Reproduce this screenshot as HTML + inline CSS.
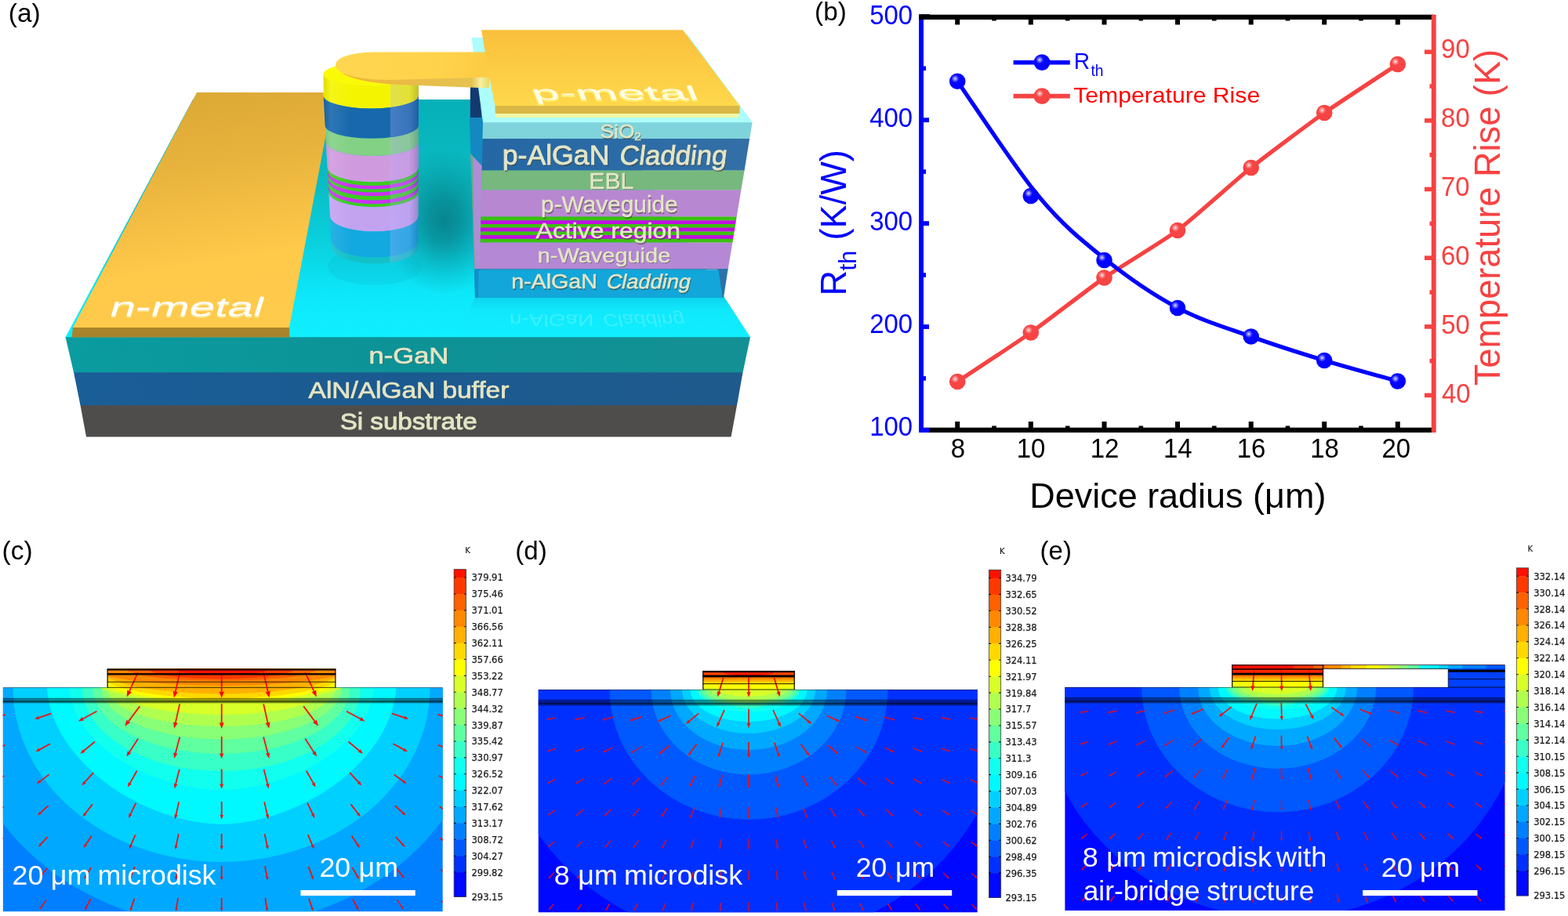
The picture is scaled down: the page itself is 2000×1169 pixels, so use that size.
<!DOCTYPE html>
<html lang="en"><head><meta charset="utf-8"><title>Figure</title>
<style>
html,body{margin:0;padding:0;background:#fff;}
body{width:2000px;height:1169px;overflow:hidden;}
svg{display:block;}
</style></head><body>
<svg width="2000" height="1169" viewBox="0 0 2000 1169">
<rect x="0" y="0" width="2000" height="1169" fill="#fff"/>
<g id="panelA">
<defs>
<linearGradient id="aCy" x1="0" y1="127" x2="0" y2="430" gradientUnits="userSpaceOnUse">
 <stop offset="0" stop-color="#07b0b8"/><stop offset="0.35" stop-color="#09bcc4"/><stop offset="0.62" stop-color="#0ad2e0"/><stop offset="0.82" stop-color="#0ce8fa"/><stop offset="1" stop-color="#10efff"/>
</linearGradient>
<linearGradient id="aNm" x1="250" y1="118" x2="300" y2="418" gradientUnits="userSpaceOnUse">
 <stop offset="0" stop-color="#dca936"/><stop offset="0.3" stop-color="#e8b33c"/><stop offset="0.55" stop-color="#f6c045"/><stop offset="0.72" stop-color="#ffc94a"/><stop offset="1" stop-color="#ffcb4c"/>
</linearGradient>
<linearGradient id="aPad" x1="0" y1="38" x2="0" y2="135" gradientUnits="userSpaceOnUse">
 <stop offset="0" stop-color="#f9bf3c"/><stop offset="1" stop-color="#ffd84c"/>
</linearGradient>
<linearGradient id="aArm" x1="428" y1="0" x2="624" y2="0" gradientUnits="userSpaceOnUse">
 <stop offset="0" stop-color="#ffd650"/><stop offset="0.7" stop-color="#ffd24b"/><stop offset="1" stop-color="#fdcb44"/>
</linearGradient>
<linearGradient id="aArmS" x1="440" y1="0" x2="624" y2="0" gradientUnits="userSpaceOnUse">
 <stop offset="0" stop-color="#f3b630"/><stop offset="0.5" stop-color="#e8bc4a"/><stop offset="0.88" stop-color="#e6c250"/><stop offset="0.94" stop-color="#f6f0a0"/><stop offset="1" stop-color="#e8d868"/>
</linearGradient>
<linearGradient id="aGaN" x1="83" y1="0" x2="957" y2="0" gradientUnits="userSpaceOnUse">
 <stop offset="0" stop-color="#0a9ca0"/><stop offset="0.5" stop-color="#0d9296"/><stop offset="1" stop-color="#149094"/>
</linearGradient>
<linearGradient id="aAlN" x1="94" y1="0" x2="947" y2="0" gradientUnits="userSpaceOnUse">
 <stop offset="0" stop-color="#1a5e98"/><stop offset="0.5" stop-color="#1b5a90"/><stop offset="1" stop-color="#1f5a8c"/>
</linearGradient>
<linearGradient id="aCylSh" x1="412" y1="0" x2="534" y2="0" gradientUnits="userSpaceOnUse">
 <stop offset="0" stop-color="#000" stop-opacity="0.10"/><stop offset="0.08" stop-color="#fff" stop-opacity="0.10"/><stop offset="0.3" stop-color="#fff" stop-opacity="0.0"/><stop offset="0.7" stop-color="#fff" stop-opacity="0"/><stop offset="0.705" stop-color="#b8b0ff" stop-opacity="0.30"/><stop offset="0.9" stop-color="#a8a0f0" stop-opacity="0.22"/><stop offset="1" stop-color="#304080" stop-opacity="0.30"/>
</linearGradient>
<radialGradient id="aShd" cx="566" cy="283" r="78" gradientUnits="userSpaceOnUse" gradientTransform="translate(566,283) scale(1,1.2) translate(-566,-283)">
 <stop offset="0" stop-color="#05444c" stop-opacity="0.52"/><stop offset="0.3" stop-color="#055058" stop-opacity="0.42"/><stop offset="0.65" stop-color="#066068" stop-opacity="0.2"/><stop offset="1" stop-color="#087078" stop-opacity="0"/>
</radialGradient>
<linearGradient id="aRefl" x1="0" y1="380" x2="0" y2="430" gradientUnits="userSpaceOnUse">
 <stop offset="0" stop-color="#0cc0e0" stop-opacity="0.55"/><stop offset="0.35" stop-color="#18e0f8" stop-opacity="0.2"/><stop offset="1" stop-color="#18e8ff" stop-opacity="0"/>
</linearGradient>
<linearGradient id="aPA" x1="612" y1="0" x2="955" y2="0" gradientUnits="userSpaceOnUse">
 <stop offset="0" stop-color="#2467a4"/><stop offset="1" stop-color="#336fa6"/>
</linearGradient>
<clipPath id="aCylClip"><path d="M412.5,100 L412.5,100 A60.75,15 0 0 1 534,100 L533.4,314 A55.2,22.5 0 0 1 423,314 Z"/></clipPath>
</defs>
<polygon points="102.5,517.0 940.0,517.0 932.5,557.5 110.0,557.5" fill="#4f4d4b"/>
<polygon points="94.0,475.0 947.5,475.0 940.0,517.3 102.5,517.3" fill="url(#aAlN)"/>
<polygon points="83.5,430.0 957.0,430.0 947.5,475.3 94.0,475.3" fill="url(#aGaN)"/>
<polygon points="83.5,430.3 957.0,430.3 760.0,127.0 246.0,127.0" fill="url(#aCy)"/>
<polygon points="480.0,180.0 650.0,180.0 650.0,385.0 480.0,385.0" fill="url(#aShd)"/>
<polygon points="251.0,118.0 426.0,118.0 369.0,418.0 93.0,418.0" fill="url(#aNm)"/>
<polygon points="93.0,418.0 369.0,418.0 369.5,430.4 91.5,430.4" fill="#a9842c"/>
<ellipse cx="478" cy="340" rx="60" ry="24" fill="#0aa0c0" opacity="0.16"/>
<path d="M412.5,94.5 A60.8,15.0 0 0 0 534.0,94.5 L533.9,122.0 A60.7,16.4 0 0 1 412.5,122.0 Z" fill="#f4f400"/>
<path d="M412.5,122.0 A60.7,16.4 0 0 0 533.9,122.0 L533.8,160.2 A59.6,16.6 0 0 1 414.6,160.2 Z" fill="#1768ac"/>
<path d="M414.6,160.2 A59.6,16.6 0 0 0 533.8,160.2 L533.8,181.0 A59.0,18.0 0 0 1 415.7,181.0 Z" fill="#82d184"/>
<path d="M415.7,181.0 A59.0,18.0 0 0 0 533.8,181.0 L533.7,213.5 A58.1,19.0 0 0 1 417.5,213.5 Z" fill="#d09adf"/>
<path d="M417.5,213.5 A58.1,19.0 0 0 0 533.7,213.5 L533.7,217.9 A58.0,19.2 0 0 1 417.7,217.9 Z" fill="#3ecc1c"/>
<path d="M417.7,217.9 A58.0,19.2 0 0 0 533.7,217.9 L533.7,222.6 A57.8,19.2 0 0 1 418.0,222.6 Z" fill="#cc30ee"/>
<path d="M418.0,222.6 A57.8,19.2 0 0 0 533.7,222.6 L533.6,227.2 A57.7,19.2 0 0 1 418.3,227.2 Z" fill="#3ecc1c"/>
<path d="M418.3,227.2 A57.7,19.2 0 0 0 533.6,227.2 L533.6,231.9 A57.6,19.2 0 0 1 418.5,231.9 Z" fill="#cc30ee"/>
<path d="M418.5,231.9 A57.6,19.2 0 0 0 533.6,231.9 L533.6,236.5 A57.4,19.2 0 0 1 418.8,236.5 Z" fill="#3ecc1c"/>
<path d="M418.8,236.5 A57.4,19.2 0 0 0 533.6,236.5 L533.6,241.2 A57.3,19.2 0 0 1 419.0,241.2 Z" fill="#cc30ee"/>
<path d="M419.0,241.2 A57.3,19.2 0 0 0 533.6,241.2 L533.6,245.8 A57.2,19.2 0 0 1 419.3,245.8 Z" fill="#3ecc1c"/>
<path d="M419.3,245.8 A57.2,19.2 0 0 0 533.6,245.8 L533.5,275.4 A56.3,20.2 0 0 1 420.9,275.4 Z" fill="#c3a2f0"/>
<path d="M420.9,275.4 A56.3,20.2 0 0 0 533.5,275.4 L533.4,307.2 A55.4,21.5 0 0 1 422.6,307.2 Z" fill="#12a8e0"/>
<path d="M422.6,307.2 A55.4,21.5 0 0 0 533.4,307.2 L533.4,314.5 A55.2,22.0 0 0 1 423.0,314.5 Z" fill="#14c0c8"/>
<path d="M412.5,94.5 A60.8,15.0 0 0 0 534.0,94.5 L533.4,314.5 A55.2,22.0 0 0 1 423.0,314.5 Z" fill="url(#aCylSh)"/>
<ellipse cx="473.25" cy="94.5" rx="60.75" ry="15" fill="#fafa08"/>
<polygon points="600.0,110.0 616.0,110.0 616.0,156.0 611.0,380.0 606.0,380.0 599.0,150.0" fill="#1488c0"/>
<polygon points="600.0,110.0 612.0,110.0 614.0,150.0 600.0,150.0" fill="#123a70"/>
<polygon points="600.0,196.0 615.0,212.0 612.5,343.0 605.0,343.0 601.5,228.0" fill="#ae8ed4"/>
<polygon points="600.0,196.0 603.0,199.0 605.5,343.0 604.6,343.0 601.5,228.0" fill="#58b078" opacity="0.8"/>
<polygon points="605.0,343.0 612.5,343.0 611.0,380.0 606.0,380.0" fill="#1090c8"/>
<polygon points="616.0,156.0 959.6,156.0 956.1,177.3 615.5,177.3" fill="#7fd3db"/>
<polygon points="615.5,177.0 956.1,177.0 949.5,217.7 614.6,217.7" fill="url(#aPA)"/>
<polygon points="614.6,217.4 949.5,217.4 945.3,242.8 614.1,242.8" fill="#77b87f"/>
<polygon points="614.1,242.5 945.3,242.5 939.7,276.8 613.3,276.8" fill="#b887d2"/>
<polygon points="613.3,276.5 939.7,276.5 938.9,281.5 613.2,281.5" fill="#3cc010"/>
<polygon points="613.2,281.2 938.9,281.2 938.2,286.2 613.1,286.2" fill="#c010e0"/>
<polygon points="613.1,285.9 938.2,285.9 937.4,290.9 613.0,290.9" fill="#3cc010"/>
<polygon points="613.0,290.6 937.4,290.6 936.6,295.7 612.9,295.7" fill="#c010e0"/>
<polygon points="612.9,295.4 936.6,295.4 935.8,300.4 612.8,300.4" fill="#3cc010"/>
<polygon points="612.8,300.1 935.8,300.1 935.1,305.1 612.7,305.1" fill="#c010e0"/>
<polygon points="612.7,304.8 935.1,304.8 934.3,309.8 612.6,309.8" fill="#3cc010"/>
<polygon points="612.6,309.5 934.3,309.5 928.7,343.5 611.8,343.5" fill="#b488d4"/>
<polygon points="915.0,343.0 928.6,343.0 923.0,380.0 920.0,380.0" fill="#2a74a8"/>
<polygon points="610.5,344.4 916.4,344.4 921.5,380.0 610.0,380.0" fill="#12a6da"/>
<polygon points="610.5,343.0 928.6,343.0 928.4,344.6 610.5,344.6" fill="#2a78b0" opacity="0.8"/>
<polygon points="606.0,380.0 924.0,380.0 955.0,428.0 580.0,428.0" fill="url(#aRefl)"/>
<polygon points="601.5,48.0 877.0,44.0 959.8,156.3 616.0,156.3" fill="#adfcfc"/>
<polygon points="632.0,144.0 942.5,144.0 942.0,150.2 632.5,150.2" fill="#eff8a6"/>
<polygon points="631.4,134.5 943.6,134.5 943.4,145.0 631.8,145.0" fill="#d9b746"/>
<polygon points="614.0,38.2 871.0,38.2 943.6,135.0 631.4,135.0 624.0,98.0" fill="url(#aPad)"/>
<path d="M436,93 Q450,103 497,107.6 L623.5,112.4 L624.5,98 L497,101 Z" fill="url(#aArmS)"/>
<path d="M618,66.6 L476,66.6 C447,67 428,74 428,83 C428,93 450,101.5 497,102 L625,98.6 L619,66 Z" fill="url(#aArm)"/>
</g>
<g id="textA">
<text transform="translate(0,177.60) scale(1.0767,1)" font-family="'Liberation Sans', sans-serif" font-size="24.50" fill="#3a3a28" xml:space="preserve" opacity="0.55"><tspan x="711.87" y="0">SiO</tspan><tspan x="752.57" y="2.50" font-size="14.50">2</tspan></text>
<text transform="translate(0,176.30) scale(1.0767,1)" font-family="'Liberation Sans', sans-serif" font-size="24.50" fill="#e3e5c6" xml:space="preserve" stroke="#e3e5c6" stroke-width="0.5"><tspan x="710.94" y="0">SiO</tspan><tspan x="751.65" y="2.50" font-size="14.50">2</tspan></text>
<text transform="translate(641.68,211.50) scale(1.0374,1.0)" font-family="'Liberation Sans', sans-serif" font-size="34.4" fill="#3a3a28" opacity="0.55">p-AlGaN</text>
<text transform="translate(640.68,210.20) scale(1.0374,1.0)" font-family="'Liberation Sans', sans-serif" font-size="34.4" fill="#e3e5c6" stroke="#e3e5c6" stroke-width="0.8">p-AlGaN</text>
<text transform="translate(790.15,211.50) skewX(-7) scale(1.0095,1.0)" font-family="'Liberation Sans', sans-serif" font-size="34.4" fill="#3a3a28" opacity="0.55">Cladding</text>
<text transform="translate(789.15,210.20) skewX(-7) scale(1.0095,1.0)" font-family="'Liberation Sans', sans-serif" font-size="34.4" fill="#e3e5c6" stroke="#e3e5c6" stroke-width="0.8">Cladding</text>
<text transform="translate(752.28,242.10) scale(1.0075,1.0)" font-family="'Liberation Sans', sans-serif" font-size="30" fill="#3a3a28" opacity="0.55">EBL</text>
<text transform="translate(751.28,240.80) scale(1.0075,1.0)" font-family="'Liberation Sans', sans-serif" font-size="30" fill="#e3e5c6" stroke="#e3e5c6" stroke-width="0.5">EBL</text>
<text transform="translate(691.06,272.60) scale(0.9945,1.0)" font-family="'Liberation Sans', sans-serif" font-size="30" fill="#3a3a28" opacity="0.55">p-Waveguide</text>
<text transform="translate(690.06,271.30) scale(0.9945,1.0)" font-family="'Liberation Sans', sans-serif" font-size="30" fill="#e3e5c6" stroke="#e3e5c6" stroke-width="0.5">p-Waveguide</text>
<text transform="translate(684.60,305.70) scale(1.1909,1.0)" font-family="'Liberation Sans', sans-serif" font-size="26.8" fill="#3a3a28" opacity="0.55">Active region</text>
<text transform="translate(683.60,304.40) scale(1.1909,1.0)" font-family="'Liberation Sans', sans-serif" font-size="26.8" fill="#e3e5c6" stroke="#e3e5c6" stroke-width="0.5">Active region</text>
<text transform="translate(686.72,336.10) scale(1.1270,1.0)" font-family="'Liberation Sans', sans-serif" font-size="25.7" fill="#3a3a28" opacity="0.55">n-Waveguide</text>
<text transform="translate(685.72,334.80) scale(1.1270,1.0)" font-family="'Liberation Sans', sans-serif" font-size="25.7" fill="#e3e5c6" stroke="#e3e5c6" stroke-width="0.5">n-Waveguide</text>
<text transform="translate(653.14,369.70) scale(1.1150,1.0)" font-family="'Liberation Sans', sans-serif" font-size="25.7" fill="#3a3a28" opacity="0.55">n-AlGaN</text>
<text transform="translate(652.14,368.40) scale(1.1150,1.0)" font-family="'Liberation Sans', sans-serif" font-size="25.7" fill="#e3e5c6" stroke="#e3e5c6" stroke-width="0.5">n-AlGaN</text>
<text transform="translate(773.19,369.70) skewX(-12) scale(1.0595,1.0)" font-family="'Liberation Sans', sans-serif" font-size="25.7" fill="#3a3a28" opacity="0.55">Cladding</text>
<text transform="translate(772.19,368.40) skewX(-12) scale(1.0595,1.0)" font-family="'Liberation Sans', sans-serif" font-size="25.7" fill="#e3e5c6" stroke="#e3e5c6" stroke-width="0.5">Cladding</text>
<g transform="translate(0,401.2) scale(1,-1)" opacity="0.22"><text transform="translate(649.78,0.00) scale(1.2754,1.0)" font-family="'Liberation Sans', sans-serif" font-size="22" fill="#d8ffff" >n-AlGaN</text><text transform="translate(767.66,0.00) skewX(-12) scale(1.2003,1.0)" font-family="'Liberation Sans', sans-serif" font-size="22" fill="#d8ffff" >Cladding</text></g>
<text transform="translate(471.55,465.30) scale(1.1921,1.0)" font-family="'Liberation Sans', sans-serif" font-size="29" fill="#3a3a28" opacity="0.55">n-GaN</text>
<text transform="translate(470.55,464.00) scale(1.1921,1.0)" font-family="'Liberation Sans', sans-serif" font-size="29" fill="#e3e5c6" stroke="#e3e5c6" stroke-width="0.7">n-GaN</text>
<text transform="translate(394.60,509.30) scale(1.1526,1.0)" font-family="'Liberation Sans', sans-serif" font-size="29" fill="#3a3a28" opacity="0.55">AlN/AlGaN buffer</text>
<text transform="translate(393.60,508.00) scale(1.1526,1.0)" font-family="'Liberation Sans', sans-serif" font-size="29" fill="#e3e5c6" stroke="#e3e5c6" stroke-width="0.7">AlN/AlGaN buffer</text>
<text transform="translate(434.71,549.30) scale(1.1428,1.0)" font-family="'Liberation Sans', sans-serif" font-size="29" fill="#3a3a28" opacity="0.55">Si substrate</text>
<text transform="translate(433.71,548.00) scale(1.1428,1.0)" font-family="'Liberation Sans', sans-serif" font-size="29" fill="#e3e5c6" stroke="#e3e5c6" stroke-width="0.9">Si substrate</text>
<text transform="translate(137.68,404.70) skewX(-16.7) scale(1.7547,1.0)" font-family="'Liberation Sans', sans-serif" font-size="33.5" fill="#fbefb0" opacity="0.9">n-metal</text>
<text transform="translate(137.68,403.40) skewX(-16.7) scale(1.7547,1.0)" font-family="'Liberation Sans', sans-serif" font-size="33.5" fill="#ffffff" >n-metal</text>
<text transform="translate(681.29,129.20) skewX(22) scale(2.5432,1.0)" font-family="'Liberation Sans', sans-serif" font-size="25" fill="#fff27a" opacity="0.95" stroke="#fff27a" stroke-width="0.6">p-metal</text>
<text transform="translate(681.29,127.00) skewX(22) scale(2.5432,1.0)" font-family="'Liberation Sans', sans-serif" font-size="25" fill="#fffff4" opacity="0.92">p-metal</text>
</g>
<g id="chart" font-family="'Liberation Sans', sans-serif">
<rect x="1218.2" y="538" width="6" height="11" fill="#000"/>
<rect x="1218.2" y="22" width="6" height="9.5" fill="#000"/>
<rect x="1265.2" y="543.5" width="5.6" height="6" fill="#000"/>
<rect x="1265.2" y="22" width="5.6" height="4.5" fill="#000"/>
<rect x="1311.8" y="538" width="6" height="11" fill="#000"/>
<rect x="1311.8" y="22" width="6" height="9.5" fill="#000"/>
<rect x="1358.9" y="543.5" width="5.6" height="6" fill="#000"/>
<rect x="1358.9" y="22" width="5.6" height="4.5" fill="#000"/>
<rect x="1405.5" y="538" width="6" height="11" fill="#000"/>
<rect x="1405.5" y="22" width="6" height="9.5" fill="#000"/>
<rect x="1452.5" y="543.5" width="5.6" height="6" fill="#000"/>
<rect x="1452.5" y="22" width="5.6" height="4.5" fill="#000"/>
<rect x="1499.0" y="538" width="6" height="11" fill="#000"/>
<rect x="1499.0" y="22" width="6" height="9.5" fill="#000"/>
<rect x="1546.0" y="543.5" width="5.6" height="6" fill="#000"/>
<rect x="1546.0" y="22" width="5.6" height="4.5" fill="#000"/>
<rect x="1592.7" y="538" width="6" height="11" fill="#000"/>
<rect x="1592.7" y="22" width="6" height="9.5" fill="#000"/>
<rect x="1639.7" y="543.5" width="5.6" height="6" fill="#000"/>
<rect x="1639.7" y="22" width="5.6" height="4.5" fill="#000"/>
<rect x="1686.2" y="538" width="6" height="11" fill="#000"/>
<rect x="1686.2" y="22" width="6" height="9.5" fill="#000"/>
<rect x="1733.2" y="543.5" width="5.6" height="6" fill="#000"/>
<rect x="1733.2" y="22" width="5.6" height="4.5" fill="#000"/>
<rect x="1779.8" y="538" width="6" height="11" fill="#000"/>
<rect x="1779.8" y="22" width="6" height="9.5" fill="#000"/>
<rect x="1175.5" y="18.7" width="653.0" height="6.3" fill="#000"/>
<rect x="1175.5" y="545.7" width="653.0" height="6.3" fill="#000"/>
<rect x="1175" y="546.0" width="10" height="5.8" fill="#0000ff"/>
<rect x="1175" y="480.1" width="6" height="5.6" fill="#0000ff"/>
<rect x="1175" y="414.1" width="10" height="5.8" fill="#0000ff"/>
<rect x="1175" y="348.2" width="6" height="5.6" fill="#0000ff"/>
<rect x="1175" y="282.2" width="10" height="5.8" fill="#0000ff"/>
<rect x="1175" y="216.3" width="6" height="5.6" fill="#0000ff"/>
<rect x="1175" y="150.3" width="10" height="5.8" fill="#0000ff"/>
<rect x="1175" y="84.5" width="6" height="5.6" fill="#0000ff"/>
<rect x="1175" y="18.4" width="10" height="5.8" fill="#0000ff"/>
<rect x="1172.1" y="18.7" width="5.9" height="533.3" fill="#0000ff"/>
<rect x="1817" y="501.7" width="11" height="5.6" fill="#f74242"/>
<rect x="1823.5" y="457.9" width="5" height="5.6" fill="#f74242"/>
<rect x="1817" y="414.1" width="11" height="5.6" fill="#f74242"/>
<rect x="1823.5" y="370.2" width="5" height="5.6" fill="#f74242"/>
<rect x="1817" y="326.4" width="11" height="5.6" fill="#f74242"/>
<rect x="1823.5" y="282.6" width="5" height="5.6" fill="#f74242"/>
<rect x="1817" y="238.7" width="11" height="5.6" fill="#f74242"/>
<rect x="1823.5" y="194.9" width="5" height="5.6" fill="#f74242"/>
<rect x="1817" y="151.1" width="11" height="5.6" fill="#f74242"/>
<rect x="1823.5" y="107.3" width="5" height="5.6" fill="#f74242"/>
<rect x="1817" y="63.5" width="11" height="5.6" fill="#f74242"/>
<rect x="1825.8" y="18.7" width="5.9" height="533.3" fill="#f74242"/>
<rect x="1172.1" y="18.3" width="14" height="6.7" fill="#000"/>
<text transform="translate(1109.19,556.06) scale(0.9635,1)" font-size="34.2" fill="#0000ff" font-family="'Liberation Sans', sans-serif">100</text>
<text transform="translate(1109.19,424.81) scale(0.9635,1)" font-size="34.2" fill="#0000ff" font-family="'Liberation Sans', sans-serif">200</text>
<text transform="translate(1109.19,293.56) scale(0.9635,1)" font-size="34.2" fill="#0000ff" font-family="'Liberation Sans', sans-serif">300</text>
<text transform="translate(1109.19,162.31) scale(0.9635,1)" font-size="34.2" fill="#0000ff" font-family="'Liberation Sans', sans-serif">400</text>
<text transform="translate(1109.19,31.06) scale(0.9635,1)" font-size="34.2" fill="#0000ff" font-family="'Liberation Sans', sans-serif">500</text>
<text transform="translate(1838.94,513.81) scale(0.9635,1)" font-size="34.2" fill="#f74242" font-family="'Liberation Sans', sans-serif">40</text>
<text transform="translate(1838.28,425.91) scale(0.9635,1)" font-size="34.2" fill="#f74242" font-family="'Liberation Sans', sans-serif">50</text>
<text transform="translate(1837.95,338.01) scale(0.9635,1)" font-size="34.2" fill="#f74242" font-family="'Liberation Sans', sans-serif">60</text>
<text transform="translate(1837.95,250.11) scale(0.9635,1)" font-size="34.2" fill="#f74242" font-family="'Liberation Sans', sans-serif">70</text>
<text transform="translate(1838.12,162.21) scale(0.9635,1)" font-size="34.2" fill="#f74242" font-family="'Liberation Sans', sans-serif">80</text>
<text transform="translate(1838.12,74.31) scale(0.9635,1)" font-size="34.2" fill="#f74242" font-family="'Liberation Sans', sans-serif">90</text>
<text transform="translate(1212.67,584.01) scale(0.9635,1)" font-size="34.2" fill="#000" font-family="'Liberation Sans', sans-serif">8</text>
<text transform="translate(1296.80,584.01) scale(0.9635,1)" font-size="34.2" fill="#000" font-family="'Liberation Sans', sans-serif">10</text>
<text transform="translate(1390.65,584.35) scale(0.9635,1)" font-size="34.2" fill="#000" font-family="'Liberation Sans', sans-serif">12</text>
<text transform="translate(1483.92,584.35) scale(0.9635,1)" font-size="34.2" fill="#000" font-family="'Liberation Sans', sans-serif">14</text>
<text transform="translate(1577.69,584.01) scale(0.9635,1)" font-size="34.2" fill="#000" font-family="'Liberation Sans', sans-serif">16</text>
<text transform="translate(1671.29,584.01) scale(0.9635,1)" font-size="34.2" fill="#000" font-family="'Liberation Sans', sans-serif">18</text>
<text transform="translate(1762.52,584.01) scale(0.9635,1)" font-size="34.2" fill="#000" font-family="'Liberation Sans', sans-serif">20</text>
<text transform="translate(1313.25,647.99) scale(1.0303,1)" font-family="'Liberation Sans', sans-serif" font-size="43.64" fill="#000" >Device radius (μm)</text>
<text transform="translate(1078.60,0) rotate(-90) scale(0.9895,1)" font-family="'Liberation Sans', sans-serif" font-size="45.60" fill="#0000ff" xml:space="preserve" ><tspan x="-381.43" y="0">R</tspan><tspan x="-349.24" y="13.40" font-size="31.50">th</tspan><tspan x="-322.39" y="0.00"> (K/W)</tspan></text>
<text transform="translate(1912.70,492.35) rotate(-90) scale(0.9913,1)" font-family="'Liberation Sans', sans-serif" font-size="45.60" fill="#f74242" >Temperature Rise (K)</text>
<defs><radialGradient id="mb" cx="0.36" cy="0.34" r="0.62" fx="0.36" fy="0.34"><stop offset="0" stop-color="#e8e8ff"/><stop offset="0.12" stop-color="#9090ff"/><stop offset="0.38" stop-color="#0808ff"/><stop offset="1" stop-color="#0000ff"/></radialGradient><radialGradient id="mr" cx="0.36" cy="0.34" r="0.62" fx="0.36" fy="0.34"><stop offset="0" stop-color="#fff0f0"/><stop offset="0.12" stop-color="#f8a8a8"/><stop offset="0.38" stop-color="#f74545"/><stop offset="1" stop-color="#f74242"/></radialGradient></defs>
<path d="M1221.2,487.0 C1230.6,480.8 1296.1,437.8 1314.8,424.5 C1333.6,411.2 1389.7,367.6 1408.5,354.5 C1427.2,341.4 1483.3,308.1 1502.0,294.0 C1520.8,279.9 1576.9,229.0 1595.7,214.0 C1614.4,199.0 1670.5,157.2 1689.2,144.0 C1708.0,130.8 1773.5,88.2 1782.8,82.0" fill="none" stroke="#f74242" stroke-width="5.2" stroke-linejoin="round"/>
<path d="M1221.2,103.7 C1238.4,128.0 1292.8,211.8 1324.0,249.5 C1355.2,287.2 1378.8,305.9 1408.5,329.8 C1438.1,353.7 1470.7,376.2 1501.9,392.8 C1533.1,409.4 1564.4,418.3 1595.7,429.5 C1626.9,440.7 1658.0,450.5 1689.2,460.0 C1720.5,469.5 1767.2,482.1 1782.8,486.5" fill="none" stroke="#0000ff" stroke-width="5.2" stroke-linejoin="round"/>
<circle cx="1221.2" cy="487.0" r="10.3" fill="url(#mr)"/>
<circle cx="1314.8" cy="424.5" r="10.3" fill="url(#mr)"/>
<circle cx="1408.5" cy="354.5" r="10.3" fill="url(#mr)"/>
<circle cx="1502.0" cy="294.0" r="10.3" fill="url(#mr)"/>
<circle cx="1595.7" cy="214.0" r="10.3" fill="url(#mr)"/>
<circle cx="1689.2" cy="144.0" r="10.3" fill="url(#mr)"/>
<circle cx="1782.8" cy="82.0" r="10.3" fill="url(#mr)"/>
<circle cx="1221.2" cy="103.7" r="10.3" fill="url(#mb)"/>
<circle cx="1314.8" cy="250.0" r="10.3" fill="url(#mb)"/>
<circle cx="1408.5" cy="332.0" r="10.3" fill="url(#mb)"/>
<circle cx="1502.0" cy="393.0" r="10.3" fill="url(#mb)"/>
<circle cx="1595.7" cy="429.5" r="10.3" fill="url(#mb)"/>
<circle cx="1689.2" cy="460.0" r="10.3" fill="url(#mb)"/>
<circle cx="1782.8" cy="486.5" r="10.3" fill="url(#mb)"/>
<line x1="1292.6" y1="79.7" x2="1364.8" y2="79.7" stroke="#0000ff" stroke-width="5.6"/>
<circle cx="1329" cy="79.6" r="10.4" fill="url(#mb)"/>
<text transform="translate(0,88.20) scale(0.9504,1)" font-family="'Liberation Sans', sans-serif" font-size="29.60" fill="#0000ff" xml:space="preserve" ><tspan x="1441.17" y="0">R</tspan><tspan x="1464.10" y="8.50" font-size="20.30">th</tspan></text>
<line x1="1292.6" y1="122.6" x2="1364.8" y2="122.6" stroke="#f74242" stroke-width="5.6"/>
<circle cx="1329" cy="122.7" r="10.4" fill="url(#mr)"/>
<text transform="translate(1369.25,131.43) scale(1.0890,1)" font-family="'Liberation Sans', sans-serif" font-size="27.70" fill="#ff0000" >Temperature Rise</text>
</g>
<g id="panelC"><defs><clipPath id="call"><path d="M3.6,877.4H136.8V853.4H428.2V877.4H564.8V1163.5H3.6Z "/></clipPath><clipPath id="csub"><rect x="3.6" y="877.4" width="561.1999999999999" height="286.1"/></clipPath><clipPath id="clow"><rect x="3.6" y="894.3" width="561.1999999999999" height="269.20000000000005"/></clipPath><clipPath id="cup"><path d="M3.6,877.4H136.8V853.4H428.2V877.4H564.8V894.3H3.6Z"/></clipPath><clipPath id="cdisk"><rect x="136.8" y="853.4" width="291.4" height="24.0"/></clipPath></defs>
<g clip-path="url(#call)">
<rect x="3.6" y="848.4" width="561.1999999999999" height="315.1" fill="#0080ff"/>
<g clip-path="url(#csub)">
<ellipse cx="282.5" cy="877.4" rx="339.0" ry="305.0" fill="#00a8ff" />
<ellipse cx="282.5" cy="877.4" rx="266.0" ry="222.6" fill="#00d0ff" />
<polygon points="505.0,877.4 504.5,885.8 502.9,895.6 500.3,905.8 496.6,916.3 491.9,926.9 486.3,937.5 479.7,947.9 472.1,958.2 463.7,968.3 454.5,978.0 444.6,987.3 433.9,996.2 422.6,1004.6 410.7,1012.4 398.3,1019.6 385.5,1026.2 372.4,1032.1 359.0,1037.3 345.5,1041.7 332.1,1045.4 318.7,1048.3 305.7,1050.3 293.2,1051.6 282.5,1052.0 271.8,1051.6 259.3,1050.3 246.3,1048.3 232.9,1045.4 219.5,1041.7 206.0,1037.3 192.6,1032.1 179.5,1026.2 166.7,1019.6 154.3,1012.4 142.4,1004.6 131.1,996.2 120.4,987.3 110.5,978.0 101.3,968.3 92.9,958.2 85.3,947.9 78.7,937.5 73.1,926.9 68.4,916.3 64.7,905.8 62.1,895.6 60.5,885.8 60.0,877.4 60.5,869.0 62.1,859.2 64.7,849.0 68.4,838.5 73.1,827.9 78.7,817.3 85.3,806.9 92.9,796.6 101.3,786.5 110.5,776.8 120.4,767.5 131.1,758.6 142.4,750.2 154.3,742.4 166.7,735.2 179.5,728.6 192.6,722.7 206.0,717.5 219.5,713.1 232.9,709.4 246.3,706.5 259.3,704.5 271.8,703.2 282.5,702.8 293.2,703.2 305.7,704.5 318.7,706.5 332.1,709.4 345.5,713.1 359.0,717.5 372.4,722.7 385.5,728.6 398.3,735.2 410.7,742.4 422.6,750.2 433.9,758.6 444.6,767.5 454.5,776.8 463.7,786.5 472.1,796.6 479.7,806.9 486.3,817.3 491.9,827.9 496.6,838.5 500.3,849.0 502.9,859.2 504.5,869.0" fill="#00f8ff" />
<polygon points="476.5,877.4 476.1,884.2 474.7,891.9 472.5,899.7 469.4,907.7 465.4,915.7 460.6,923.6 455.0,931.5 448.6,939.1 441.4,946.6 433.5,953.8 425.0,960.7 415.9,967.2 406.2,973.3 395.9,979.1 385.3,984.4 374.2,989.2 362.8,993.5 351.2,997.3 339.4,1000.5 327.5,1003.2 315.7,1005.3 304.0,1006.8 292.7,1007.7 282.5,1008.0 272.3,1007.7 261.0,1006.8 249.3,1005.3 237.5,1003.2 225.6,1000.5 213.8,997.3 202.2,993.5 190.8,989.2 179.7,984.4 169.1,979.1 158.8,973.3 149.1,967.2 140.0,960.7 131.5,953.8 123.6,946.6 116.4,939.1 110.0,931.5 104.4,923.6 99.6,915.7 95.6,907.7 92.5,899.7 90.3,891.9 88.9,884.2 88.5,877.4 88.9,870.6 90.3,862.9 92.5,855.1 95.6,847.1 99.6,839.1 104.4,831.2 110.0,823.3 116.4,815.7 123.6,808.2 131.5,801.0 140.0,794.1 149.1,787.6 158.8,781.5 169.1,775.7 179.7,770.4 190.8,765.6 202.2,761.3 213.8,757.5 225.6,754.3 237.5,751.6 249.3,749.5 261.0,748.0 272.3,747.1 282.5,746.8 292.7,747.1 304.0,748.0 315.7,749.5 327.5,751.6 339.4,754.3 351.2,757.5 362.8,761.3 374.2,765.6 385.3,770.4 395.9,775.7 406.2,781.5 415.9,787.6 425.0,794.1 433.5,801.0 441.4,808.2 448.6,815.7 455.0,823.3 460.6,831.2 465.4,839.1 469.4,847.1 472.5,855.1 474.7,862.9 476.1,870.6" fill="#10ffef" />
<ellipse cx="282.5" cy="877.4" rx="177.5" ry="106.6" fill="#38ffc7" />
<ellipse cx="282.5" cy="877.4" rx="164.0" ry="84.6" fill="#60ff9f" />
<ellipse cx="282.5" cy="877.4" rx="153.5" ry="66.0" fill="#88ff77" />
<ellipse cx="282.5" cy="877.4" rx="146.0" ry="49.6" fill="#b0ff4f" />
</g>
<g clip-path="url(#clow)">
<ellipse cx="282.5" cy="877.4" rx="136.0" ry="34.6" fill="#d8ff27" />
</g>
<g clip-path="url(#cup)">
<ellipse cx="282.5" cy="853.4" rx="182.0" ry="46.0" fill="#d8ff27" />
<ellipse cx="282.5" cy="853.4" rx="175.0" ry="42.0" fill="#ffff00" />
<ellipse cx="282.5" cy="853.4" rx="165.0" ry="38.0" fill="#ffd800" />
<ellipse cx="282.5" cy="853.4" rx="155.0" ry="32.0" fill="#ffb000" />
<ellipse cx="282.5" cy="853.4" rx="160.0" ry="21.5" fill="#ff8800" />
<ellipse cx="282.5" cy="853.4" rx="121.0" ry="15.2" fill="#ff6000" />
<ellipse cx="282.5" cy="853.4" rx="93.0" ry="12.8" fill="#ff3800" />
<ellipse cx="282.5" cy="853.4" rx="60.0" ry="8.0" fill="#ff1000" />
</g>
<g clip-path="url(#cdisk)">

</g>

<rect x="3.6" y="891.2" width="561.1999999999999" height="6.199999999999932" fill="#000" opacity="0.40"/>
<rect x="3.6" y="894.1" width="561.1999999999999" height="2.2" fill="#000" opacity="0.42"/>
<rect x="3.6" y="890.7" width="561.1999999999999" height="1.2" fill="#000" opacity="0.25"/>
<rect x="3.6" y="876.8" width="561.1999999999999" height="1.3" fill="#000" opacity="0.62"/>
</g>
<g clip-path="url(#call)">
<path d="M175.7,858.5L165.1,882.0" stroke="#f80808" stroke-width="1.8" fill="none" opacity="1.0"/><polygon points="161.7,889.5 162.2,880.7 167.9,883.3" fill="#f80808" opacity="1.0"/>
<path d="M229.5,857.4L223.8,882.5" stroke="#f80808" stroke-width="1.8" fill="none" opacity="1.0"/><polygon points="221.9,890.6 220.7,881.8 226.8,883.2" fill="#f80808" opacity="1.0"/>
<path d="M282.7,857.0L282.7,882.8" stroke="#f80808" stroke-width="1.8" fill="none" opacity="1.0"/><polygon points="282.7,891.0 279.6,882.8 285.8,882.8" fill="#f80808" opacity="1.0"/>
<path d="M335.9,857.4L341.7,882.5" stroke="#f80808" stroke-width="1.8" fill="none" opacity="1.0"/><polygon points="343.5,890.6 338.6,883.2 344.7,881.8" fill="#f80808" opacity="1.0"/>
<path d="M389.6,858.5L400.3,882.0" stroke="#f80808" stroke-width="1.8" fill="none" opacity="1.0"/><polygon points="403.8,889.5 397.5,883.3 403.2,880.7" fill="#f80808" opacity="1.0"/>
<path d="M7.0,911.9L-6.6,915.1" stroke="#f80808" stroke-width="1.8" fill="none" opacity="0.95"/><polygon points="-11.6,916.3 -7.1,913.2 -6.2,917.0" fill="#f80808" opacity="0.95"/>
<path d="M65.3,910.6L49.6,915.8" stroke="#f80808" stroke-width="1.8" fill="none" opacity="0.95"/><polygon points="44.1,917.6 48.9,913.7 50.3,917.9" fill="#f80808" opacity="0.95"/>
<path d="M123.5,907.7L105.8,917.3" stroke="#f80808" stroke-width="1.8" fill="none" opacity="0.95"/><polygon points="99.9,920.5 104.6,915.1 107.1,919.6" fill="#f80808" opacity="0.95"/>
<path d="M178.2,901.4L163.9,920.6" stroke="#f80808" stroke-width="1.8" fill="none" opacity="0.95"/><polygon points="159.2,926.8 161.5,918.8 166.2,922.3" fill="#f80808" opacity="0.95"/>
<path d="M229.2,898.4L223.9,922.1" stroke="#f80808" stroke-width="1.8" fill="none" opacity="0.95"/><polygon points="222.2,929.8 221.0,921.5 226.8,922.8" fill="#f80808" opacity="0.95"/>
<path d="M282.7,898.2L282.7,922.2" stroke="#f80808" stroke-width="1.8" fill="none" opacity="0.95"/><polygon points="282.7,930.0 279.7,922.2 285.7,922.2" fill="#f80808" opacity="0.95"/>
<path d="M336.1,898.4L341.5,922.1" stroke="#f80808" stroke-width="1.8" fill="none" opacity="0.95"/><polygon points="343.3,929.8 338.6,922.8 344.4,921.5" fill="#f80808" opacity="0.95"/>
<path d="M387.2,901.4L401.6,920.6" stroke="#f80808" stroke-width="1.8" fill="none" opacity="0.95"/><polygon points="406.2,926.8 399.2,922.3 403.9,918.8" fill="#f80808" opacity="0.95"/>
<path d="M441.9,907.7L459.6,917.3" stroke="#f80808" stroke-width="1.8" fill="none" opacity="0.95"/><polygon points="465.5,920.5 458.3,919.5 460.8,915.0" fill="#f80808" opacity="0.95"/>
<path d="M500.1,910.6L515.8,915.8" stroke="#f80808" stroke-width="1.8" fill="none" opacity="0.95"/><polygon points="521.3,917.6 515.1,917.8 516.5,913.7" fill="#f80808" opacity="0.95"/>
<path d="M558.4,911.9L572.0,915.1" stroke="#f80808" stroke-width="1.8" fill="none" opacity="0.95"/><polygon points="577.0,916.3 571.6,917.0 572.5,913.2" fill="#f80808" opacity="0.95"/>
<path d="M6.3,950.8L-6.3,955.8" stroke="#f80808" stroke-width="1.8" fill="none" opacity="0.95"/><polygon points="-10.9,957.6 -7.0,954.0 -5.6,957.5" fill="#f80808" opacity="0.95"/>
<path d="M64.0,949.2L50.3,956.6" stroke="#f80808" stroke-width="1.8" fill="none" opacity="0.95"/><polygon points="45.4,959.2 49.3,954.7 51.3,958.4" fill="#f80808" opacity="0.95"/>
<path d="M121.0,946.5L107.1,958.0" stroke="#f80808" stroke-width="1.8" fill="none" opacity="0.95"/><polygon points="102.4,961.9 105.6,956.2 108.6,959.8" fill="#f80808" opacity="0.95"/>
<path d="M176.1,942.8L165.0,959.9" stroke="#f80808" stroke-width="1.8" fill="none" opacity="0.95"/><polygon points="161.3,965.6 162.8,958.5 167.2,961.3" fill="#f80808" opacity="0.95"/>
<path d="M229.3,940.4L223.9,961.1" stroke="#f80808" stroke-width="1.8" fill="none" opacity="0.95"/><polygon points="222.1,968.0 221.3,960.5 226.5,961.8" fill="#f80808" opacity="0.95"/>
<path d="M282.7,939.9L282.7,961.4" stroke="#f80808" stroke-width="1.8" fill="none" opacity="0.95"/><polygon points="282.7,968.5 280.0,961.4 285.4,961.4" fill="#f80808" opacity="0.95"/>
<path d="M336.1,940.4L341.5,961.1" stroke="#f80808" stroke-width="1.8" fill="none" opacity="0.95"/><polygon points="343.3,968.0 338.9,961.8 344.1,960.4" fill="#f80808" opacity="0.95"/>
<path d="M389.3,942.8L400.4,959.9" stroke="#f80808" stroke-width="1.8" fill="none" opacity="0.95"/><polygon points="404.1,965.6 398.2,961.3 402.6,958.5" fill="#f80808" opacity="0.95"/>
<path d="M444.4,946.5L458.3,958.0" stroke="#f80808" stroke-width="1.8" fill="none" opacity="0.95"/><polygon points="463.0,961.9 456.8,959.8 459.8,956.2" fill="#f80808" opacity="0.95"/>
<path d="M501.4,949.2L515.1,956.6" stroke="#f80808" stroke-width="1.8" fill="none" opacity="0.95"/><polygon points="520.0,959.2 514.1,958.4 516.1,954.7" fill="#f80808" opacity="0.95"/>
<path d="M559.1,950.8L571.7,955.8" stroke="#f80808" stroke-width="1.8" fill="none" opacity="0.95"/><polygon points="576.3,957.6 571.0,957.5 572.4,954.0" fill="#f80808" opacity="0.95"/>
<path d="M5.5,990.0L-5.8,996.3" stroke="#f80808" stroke-width="1.8" fill="none" opacity="0.95"/><polygon points="-10.1,998.6 -6.7,994.7 -5.0,997.9" fill="#f80808" opacity="0.95"/>
<path d="M62.7,988.4L51.0,997.1" stroke="#f80808" stroke-width="1.8" fill="none" opacity="0.95"/><polygon points="46.7,1000.2 49.8,995.4 52.1,998.7" fill="#f80808" opacity="0.95"/>
<path d="M119.2,986.2L108.1,998.2" stroke="#f80808" stroke-width="1.8" fill="none" opacity="0.95"/><polygon points="104.2,1002.4 106.5,996.7 109.7,999.7" fill="#f80808" opacity="0.95"/>
<path d="M174.6,983.8L165.8,999.4" stroke="#f80808" stroke-width="1.8" fill="none" opacity="0.95"/><polygon points="162.8,1004.8 163.8,998.3 167.9,1000.6" fill="#f80808" opacity="0.95"/>
<path d="M228.8,982.0L224.2,1000.3" stroke="#f80808" stroke-width="1.8" fill="none" opacity="0.95"/><polygon points="222.6,1006.6 221.8,999.8 226.5,1000.9" fill="#f80808" opacity="0.95"/>
<path d="M282.7,981.5L282.7,1000.6" stroke="#f80808" stroke-width="1.8" fill="none" opacity="0.95"/><polygon points="282.7,1007.1 280.2,1000.6 285.2,1000.6" fill="#f80808" opacity="0.95"/>
<path d="M336.6,982.0L341.2,1000.3" stroke="#f80808" stroke-width="1.8" fill="none" opacity="0.95"/><polygon points="342.8,1006.6 338.9,1000.9 343.6,999.7" fill="#f80808" opacity="0.95"/>
<path d="M390.8,983.8L399.6,999.4" stroke="#f80808" stroke-width="1.8" fill="none" opacity="0.95"/><polygon points="402.6,1004.8 397.5,1000.6 401.6,998.3" fill="#f80808" opacity="0.95"/>
<path d="M446.1,986.2L457.3,998.2" stroke="#f80808" stroke-width="1.8" fill="none" opacity="0.95"/><polygon points="461.3,1002.4 455.7,999.7 458.9,996.7" fill="#f80808" opacity="0.95"/>
<path d="M502.7,988.4L514.4,997.0" stroke="#f80808" stroke-width="1.8" fill="none" opacity="0.95"/><polygon points="518.7,1000.2 513.3,998.7 515.6,995.4" fill="#f80808" opacity="0.95"/>
<path d="M559.9,990.0L571.2,996.3" stroke="#f80808" stroke-width="1.8" fill="none" opacity="0.95"/><polygon points="575.5,998.6 570.4,997.9 572.1,994.7" fill="#f80808" opacity="0.95"/>
<path d="M4.6,1029.5L-5.4,1036.6" stroke="#f80808" stroke-width="1.8" fill="none" opacity="0.95"/><polygon points="-9.2,1039.3 -6.4,1035.1 -4.4,1038.0" fill="#f80808" opacity="0.95"/>
<path d="M61.6,1028.1L51.5,1037.3" stroke="#f80808" stroke-width="1.8" fill="none" opacity="0.95"/><polygon points="47.8,1040.7 50.3,1035.9 52.8,1038.7" fill="#f80808" opacity="0.95"/>
<path d="M117.9,1026.4L108.8,1038.2" stroke="#f80808" stroke-width="1.8" fill="none" opacity="0.95"/><polygon points="105.5,1042.4 107.2,1036.9 110.4,1039.4" fill="#f80808" opacity="0.95"/>
<path d="M173.4,1024.6L166.4,1039.1" stroke="#f80808" stroke-width="1.8" fill="none" opacity="0.95"/><polygon points="164.0,1044.2 164.5,1038.1 168.4,1040.0" fill="#f80808" opacity="0.95"/>
<path d="M228.2,1023.4L224.5,1039.7" stroke="#f80808" stroke-width="1.8" fill="none" opacity="0.95"/><polygon points="223.2,1045.4 222.3,1039.2 226.7,1040.2" fill="#f80808" opacity="0.95"/>
<path d="M282.7,1022.9L282.7,1040.0" stroke="#f80808" stroke-width="1.8" fill="none" opacity="0.95"/><polygon points="282.7,1045.9 280.5,1040.0 285.0,1040.0" fill="#f80808" opacity="0.95"/>
<path d="M337.2,1023.4L340.9,1039.7" stroke="#f80808" stroke-width="1.8" fill="none" opacity="0.95"/><polygon points="342.2,1045.4 338.8,1040.2 343.1,1039.2" fill="#f80808" opacity="0.95"/>
<path d="M392.0,1024.6L399.0,1039.1" stroke="#f80808" stroke-width="1.8" fill="none" opacity="0.95"/><polygon points="401.4,1044.2 397.0,1040.0 400.9,1038.1" fill="#f80808" opacity="0.95"/>
<path d="M447.5,1026.4L456.6,1038.2" stroke="#f80808" stroke-width="1.8" fill="none" opacity="0.95"/><polygon points="459.9,1042.4 455.0,1039.4 458.2,1036.9" fill="#f80808" opacity="0.95"/>
<path d="M503.8,1028.1L513.9,1037.3" stroke="#f80808" stroke-width="1.8" fill="none" opacity="0.95"/><polygon points="517.6,1040.7 512.6,1038.7 515.1,1035.9" fill="#f80808" opacity="0.95"/>
<path d="M560.8,1029.5L570.8,1036.6" stroke="#f80808" stroke-width="1.8" fill="none" opacity="0.95"/><polygon points="574.6,1039.3 569.8,1038.0 571.8,1035.1" fill="#f80808" opacity="0.95"/>
<path d="M3.9,1069.3L-5.0,1076.8" stroke="#f80808" stroke-width="1.8" fill="none" opacity="0.95"/><polygon points="-8.5,1079.7 -6.1,1075.5 -3.9,1078.1" fill="#f80808" opacity="0.95"/>
<path d="M60.6,1068.1L52.0,1077.4" stroke="#f80808" stroke-width="1.8" fill="none" opacity="0.95"/><polygon points="48.8,1080.9 50.7,1076.2 53.4,1078.6" fill="#f80808" opacity="0.95"/>
<path d="M116.9,1066.7L109.3,1078.1" stroke="#f80808" stroke-width="1.8" fill="none" opacity="0.95"/><polygon points="106.5,1082.3 107.7,1077.1 110.9,1079.2" fill="#f80808" opacity="0.95"/>
<path d="M172.6,1065.4L166.9,1078.8" stroke="#f80808" stroke-width="1.8" fill="none" opacity="0.95"/><polygon points="164.8,1083.6 165.0,1078.0 168.7,1079.6" fill="#f80808" opacity="0.95"/>
<path d="M227.8,1064.4L224.7,1079.3" stroke="#f80808" stroke-width="1.8" fill="none" opacity="0.95"/><polygon points="223.6,1084.6 222.7,1078.8 226.7,1079.7" fill="#f80808" opacity="0.95"/>
<path d="M282.7,1064.1L282.7,1079.4" stroke="#f80808" stroke-width="1.8" fill="none" opacity="0.95"/><polygon points="282.7,1084.9 280.6,1079.4 284.8,1079.4" fill="#f80808" opacity="0.95"/>
<path d="M337.6,1064.4L340.7,1079.3" stroke="#f80808" stroke-width="1.8" fill="none" opacity="0.95"/><polygon points="341.8,1084.6 338.7,1079.7 342.7,1078.8" fill="#f80808" opacity="0.95"/>
<path d="M392.8,1065.4L398.5,1078.8" stroke="#f80808" stroke-width="1.8" fill="none" opacity="0.95"/><polygon points="400.6,1083.6 396.7,1079.6 400.4,1078.0" fill="#f80808" opacity="0.95"/>
<path d="M448.5,1066.7L456.1,1078.1" stroke="#f80808" stroke-width="1.8" fill="none" opacity="0.95"/><polygon points="458.9,1082.3 454.5,1079.2 457.7,1077.1" fill="#f80808" opacity="0.95"/>
<path d="M504.8,1068.1L513.4,1077.4" stroke="#f80808" stroke-width="1.8" fill="none" opacity="0.95"/><polygon points="516.6,1080.9 512.0,1078.6 514.7,1076.2" fill="#f80808" opacity="0.95"/>
<path d="M561.5,1069.3L570.4,1076.8" stroke="#f80808" stroke-width="1.8" fill="none" opacity="0.95"/><polygon points="573.9,1079.7 569.3,1078.1 571.5,1075.5" fill="#f80808" opacity="0.95"/>
<path d="M3.2,1109.2L-4.7,1117.0" stroke="#f80808" stroke-width="1.53" fill="none" opacity="0.85"/><polygon points="-7.8,1120.0 -5.8,1115.8 -3.5,1118.1" fill="#f80808" opacity="0.85"/>
<path d="M59.8,1108.2L52.4,1117.5" stroke="#f80808" stroke-width="1.8" fill="none" opacity="0.95"/><polygon points="49.6,1121.0 51.1,1116.4 53.8,1118.5" fill="#f80808" opacity="0.95"/>
<path d="M116.1,1107.1L109.7,1118.0" stroke="#f80808" stroke-width="1.8" fill="none" opacity="0.95"/><polygon points="107.3,1122.1 108.2,1117.1 111.3,1118.9" fill="#f80808" opacity="0.95"/>
<path d="M171.9,1106.1L167.2,1118.5" stroke="#f80808" stroke-width="1.8" fill="none" opacity="0.95"/><polygon points="165.5,1123.1 165.5,1117.9 169.0,1119.2" fill="#f80808" opacity="0.95"/>
<path d="M227.4,1105.4L224.9,1118.9" stroke="#f80808" stroke-width="1.8" fill="none" opacity="0.95"/><polygon points="224.0,1123.8 223.0,1118.5 226.8,1119.2" fill="#f80808" opacity="0.95"/>
<path d="M282.7,1105.1L282.7,1119.0" stroke="#f80808" stroke-width="1.8" fill="none" opacity="0.95"/><polygon points="282.7,1124.1 280.8,1119.0 284.6,1119.0" fill="#f80808" opacity="0.95"/>
<path d="M338.0,1105.4L340.5,1118.9" stroke="#f80808" stroke-width="1.8" fill="none" opacity="0.95"/><polygon points="341.4,1123.8 338.6,1119.2 342.4,1118.5" fill="#f80808" opacity="0.95"/>
<path d="M393.5,1106.1L398.2,1118.5" stroke="#f80808" stroke-width="1.8" fill="none" opacity="0.95"/><polygon points="399.9,1123.1 396.4,1119.2 399.9,1117.9" fill="#f80808" opacity="0.95"/>
<path d="M449.3,1107.1L455.7,1118.0" stroke="#f80808" stroke-width="1.8" fill="none" opacity="0.95"/><polygon points="458.1,1122.1 454.1,1118.9 457.2,1117.1" fill="#f80808" opacity="0.95"/>
<path d="M505.6,1108.2L513.0,1117.5" stroke="#f80808" stroke-width="1.8" fill="none" opacity="0.95"/><polygon points="515.8,1121.0 511.6,1118.5 514.3,1116.4" fill="#f80808" opacity="0.95"/>
<path d="M562.2,1109.2L570.1,1117.0" stroke="#f80808" stroke-width="1.53" fill="none" opacity="0.85"/><polygon points="573.2,1120.0 568.9,1118.1 571.2,1115.8" fill="#f80808" opacity="0.85"/>
<path d="M2.6,1149.2L-4.4,1157.1" stroke="#f80808" stroke-width="1.53" fill="none" opacity="0.85"/><polygon points="-7.2,1160.2 -5.6,1156.0 -3.2,1158.1" fill="#f80808" opacity="0.85"/>
<path d="M59.1,1148.3L52.8,1157.5" stroke="#f80808" stroke-width="1.53" fill="none" opacity="0.85"/><polygon points="50.3,1161.1 51.4,1156.5 54.1,1158.4" fill="#f80808" opacity="0.85"/>
<path d="M115.4,1147.5L110.0,1157.9" stroke="#f80808" stroke-width="1.8" fill="none" opacity="0.95"/><polygon points="108.0,1161.9 108.5,1157.1 111.6,1158.7" fill="#f80808" opacity="0.95"/>
<path d="M171.4,1146.7L167.5,1158.3" stroke="#f80808" stroke-width="1.8" fill="none" opacity="0.95"/><polygon points="166.0,1162.7 165.8,1157.7 169.2,1158.9" fill="#f80808" opacity="0.95"/>
<path d="M227.1,1146.1L225.1,1158.6" stroke="#f80808" stroke-width="1.8" fill="none" opacity="0.95"/><polygon points="224.3,1163.3 223.3,1158.3 226.8,1158.9" fill="#f80808" opacity="0.95"/>
<path d="M282.7,1146.0L282.7,1158.7" stroke="#f80808" stroke-width="1.8" fill="none" opacity="0.95"/><polygon points="282.7,1163.4 280.9,1158.7 284.5,1158.7" fill="#f80808" opacity="0.95"/>
<path d="M338.3,1146.1L340.3,1158.6" stroke="#f80808" stroke-width="1.8" fill="none" opacity="0.95"/><polygon points="341.1,1163.3 338.6,1158.9 342.1,1158.3" fill="#f80808" opacity="0.95"/>
<path d="M394.0,1146.7L397.9,1158.3" stroke="#f80808" stroke-width="1.8" fill="none" opacity="0.95"/><polygon points="399.4,1162.7 396.2,1158.9 399.6,1157.7" fill="#f80808" opacity="0.95"/>
<path d="M450.0,1147.5L455.4,1157.9" stroke="#f80808" stroke-width="1.8" fill="none" opacity="0.95"/><polygon points="457.4,1161.9 453.8,1158.7 456.9,1157.1" fill="#f80808" opacity="0.95"/>
<path d="M506.3,1148.3L512.6,1157.5" stroke="#f80808" stroke-width="1.53" fill="none" opacity="0.85"/><polygon points="515.1,1161.1 511.3,1158.4 514.0,1156.5" fill="#f80808" opacity="0.85"/>
<path d="M562.8,1149.2L569.8,1157.1" stroke="#f80808" stroke-width="1.53" fill="none" opacity="0.85"/><polygon points="572.6,1160.2 568.6,1158.1 571.0,1156.0" fill="#f80808" opacity="0.85"/>
</g>
<rect x="136.8" y="859.10" width="291.4" height="2.4" fill="#000" opacity="0.95"/>
<rect x="136.8" y="869.75" width="291.4" height="1.1" fill="#000" opacity="0.7"/>
<path d="M137.20000000000002,877.4V853.4M427.8,877.4V853.4" fill="none" stroke="#0a0000" stroke-width="1.2" opacity="0.9"/>
<rect x="136.8" y="853.4" width="291.4" height="2.2" fill="#0a0000" opacity="0.95"/>

<rect x="383.5" y="1136" width="146.20000000000005" height="7.1" fill="#fff"/>
<text transform="translate(0,1128.70) scale(1.0160,1)" font-family="'Liberation Sans', sans-serif" font-size="35.20" fill="#ffffff" xml:space="preserve" ><tspan x="15.39" y="0">20 </tspan><tspan x="63.77" y="0">μm </tspan><tspan x="122.58" y="0">microdisk</tspan></text>
<text transform="translate(0,1118.70) scale(1.0144,1)" font-family="'Liberation Sans', sans-serif" font-size="35.20" fill="#ffffff" xml:space="preserve" ><tspan x="401.64" y="0">20 </tspan><tspan x="451.10" y="0">μm</tspan></text>
<rect x="579.1" y="726.60" width="15.4" height="10.85" fill="#ff1000"/>
<rect x="579.1" y="737.05" width="15.4" height="21.29" fill="#ff3800"/>
<rect x="579.1" y="757.94" width="15.4" height="21.29" fill="#ff6000"/>
<rect x="579.1" y="778.83" width="15.4" height="21.29" fill="#ff8800"/>
<rect x="579.1" y="799.72" width="15.4" height="21.29" fill="#ffb000"/>
<rect x="579.1" y="820.61" width="15.4" height="21.29" fill="#ffd800"/>
<rect x="579.1" y="841.50" width="15.4" height="21.29" fill="#ffff00"/>
<rect x="579.1" y="862.38" width="15.4" height="21.29" fill="#d8ff27"/>
<rect x="579.1" y="883.27" width="15.4" height="21.29" fill="#b0ff4f"/>
<rect x="579.1" y="904.16" width="15.4" height="21.29" fill="#88ff77"/>
<rect x="579.1" y="925.05" width="15.4" height="21.29" fill="#60ff9f"/>
<rect x="579.1" y="945.94" width="15.4" height="21.29" fill="#38ffc7"/>
<rect x="579.1" y="966.83" width="15.4" height="21.29" fill="#10ffef"/>
<rect x="579.1" y="987.72" width="15.4" height="21.29" fill="#00f8ff"/>
<rect x="579.1" y="1008.61" width="15.4" height="21.29" fill="#00d0ff"/>
<rect x="579.1" y="1029.50" width="15.4" height="21.29" fill="#00a8ff"/>
<rect x="579.1" y="1050.39" width="15.4" height="21.29" fill="#0080ff"/>
<rect x="579.1" y="1071.29" width="15.4" height="21.29" fill="#0058ff"/>
<rect x="579.1" y="1092.18" width="15.4" height="21.29" fill="#0030ff"/>
<rect x="579.1" y="1113.07" width="15.4" height="31.73" fill="#0008ff"/>
<rect x="579.1" y="726.6" width="15.4" height="417.8" fill="none" stroke="#303030" stroke-width="0.9" opacity="0.8"/>
<path d="M579.1,737.05h2.6M594.5,737.05h-2.6" stroke="#000" stroke-width="1.1" opacity="0.9"/>
<path d="M579.1,757.94h2.6M594.5,757.94h-2.6" stroke="#000" stroke-width="1.1" opacity="0.9"/>
<path d="M579.1,778.83h2.6M594.5,778.83h-2.6" stroke="#000" stroke-width="1.1" opacity="0.9"/>
<path d="M579.1,799.72h2.6M594.5,799.72h-2.6" stroke="#000" stroke-width="1.1" opacity="0.9"/>
<path d="M579.1,820.61h2.6M594.5,820.61h-2.6" stroke="#000" stroke-width="1.1" opacity="0.9"/>
<path d="M579.1,841.50h2.6M594.5,841.50h-2.6" stroke="#000" stroke-width="1.1" opacity="0.9"/>
<path d="M579.1,862.38h2.6M594.5,862.38h-2.6" stroke="#000" stroke-width="1.1" opacity="0.9"/>
<path d="M579.1,883.27h2.6M594.5,883.27h-2.6" stroke="#000" stroke-width="1.1" opacity="0.9"/>
<path d="M579.1,904.16h2.6M594.5,904.16h-2.6" stroke="#000" stroke-width="1.1" opacity="0.9"/>
<path d="M579.1,925.05h2.6M594.5,925.05h-2.6" stroke="#000" stroke-width="1.1" opacity="0.9"/>
<path d="M579.1,945.94h2.6M594.5,945.94h-2.6" stroke="#000" stroke-width="1.1" opacity="0.9"/>
<path d="M579.1,966.83h2.6M594.5,966.83h-2.6" stroke="#000" stroke-width="1.1" opacity="0.9"/>
<path d="M579.1,987.72h2.6M594.5,987.72h-2.6" stroke="#000" stroke-width="1.1" opacity="0.9"/>
<path d="M579.1,1008.61h2.6M594.5,1008.61h-2.6" stroke="#000" stroke-width="1.1" opacity="0.9"/>
<path d="M579.1,1029.50h2.6M594.5,1029.50h-2.6" stroke="#000" stroke-width="1.1" opacity="0.9"/>
<path d="M579.1,1050.39h2.6M594.5,1050.39h-2.6" stroke="#000" stroke-width="1.1" opacity="0.9"/>
<path d="M579.1,1071.29h2.6M594.5,1071.29h-2.6" stroke="#000" stroke-width="1.1" opacity="0.9"/>
<path d="M579.1,1092.18h2.6M594.5,1092.18h-2.6" stroke="#000" stroke-width="1.1" opacity="0.9"/>
<path d="M579.1,1113.07h2.6M594.5,1113.07h-2.6" stroke="#000" stroke-width="1.1" opacity="0.9"/>
<text x="601.5" y="741.4" font-size="11.5" fill="#1c1c1c" stroke="#1c1c1c" stroke-width="0.25" font-family="'DejaVu Sans', 'Liberation Sans', sans-serif">379.91</text>
<text x="601.5" y="762.3" font-size="11.5" fill="#1c1c1c" stroke="#1c1c1c" stroke-width="0.25" font-family="'DejaVu Sans', 'Liberation Sans', sans-serif">375.46</text>
<text x="601.5" y="783.2" font-size="11.5" fill="#1c1c1c" stroke="#1c1c1c" stroke-width="0.25" font-family="'DejaVu Sans', 'Liberation Sans', sans-serif">371.01</text>
<text x="601.5" y="804.1" font-size="11.5" fill="#1c1c1c" stroke="#1c1c1c" stroke-width="0.25" font-family="'DejaVu Sans', 'Liberation Sans', sans-serif">366.56</text>
<text x="601.5" y="825.0" font-size="11.5" fill="#1c1c1c" stroke="#1c1c1c" stroke-width="0.25" font-family="'DejaVu Sans', 'Liberation Sans', sans-serif">362.11</text>
<text x="601.5" y="845.9" font-size="11.5" fill="#1c1c1c" stroke="#1c1c1c" stroke-width="0.25" font-family="'DejaVu Sans', 'Liberation Sans', sans-serif">357.66</text>
<text x="601.5" y="866.8" font-size="11.5" fill="#1c1c1c" stroke="#1c1c1c" stroke-width="0.25" font-family="'DejaVu Sans', 'Liberation Sans', sans-serif">353.22</text>
<text x="601.5" y="887.7" font-size="11.5" fill="#1c1c1c" stroke="#1c1c1c" stroke-width="0.25" font-family="'DejaVu Sans', 'Liberation Sans', sans-serif">348.77</text>
<text x="601.5" y="908.6" font-size="11.5" fill="#1c1c1c" stroke="#1c1c1c" stroke-width="0.25" font-family="'DejaVu Sans', 'Liberation Sans', sans-serif">344.32</text>
<text x="601.5" y="929.5" font-size="11.5" fill="#1c1c1c" stroke="#1c1c1c" stroke-width="0.25" font-family="'DejaVu Sans', 'Liberation Sans', sans-serif">339.87</text>
<text x="601.5" y="950.3" font-size="11.5" fill="#1c1c1c" stroke="#1c1c1c" stroke-width="0.25" font-family="'DejaVu Sans', 'Liberation Sans', sans-serif">335.42</text>
<text x="601.5" y="971.2" font-size="11.5" fill="#1c1c1c" stroke="#1c1c1c" stroke-width="0.25" font-family="'DejaVu Sans', 'Liberation Sans', sans-serif">330.97</text>
<text x="601.5" y="992.1" font-size="11.5" fill="#1c1c1c" stroke="#1c1c1c" stroke-width="0.25" font-family="'DejaVu Sans', 'Liberation Sans', sans-serif">326.52</text>
<text x="601.5" y="1013.0" font-size="11.5" fill="#1c1c1c" stroke="#1c1c1c" stroke-width="0.25" font-family="'DejaVu Sans', 'Liberation Sans', sans-serif">322.07</text>
<text x="601.5" y="1033.9" font-size="11.5" fill="#1c1c1c" stroke="#1c1c1c" stroke-width="0.25" font-family="'DejaVu Sans', 'Liberation Sans', sans-serif">317.62</text>
<text x="601.5" y="1054.8" font-size="11.5" fill="#1c1c1c" stroke="#1c1c1c" stroke-width="0.25" font-family="'DejaVu Sans', 'Liberation Sans', sans-serif">313.17</text>
<text x="601.5" y="1075.7" font-size="11.5" fill="#1c1c1c" stroke="#1c1c1c" stroke-width="0.25" font-family="'DejaVu Sans', 'Liberation Sans', sans-serif">308.72</text>
<text x="601.5" y="1096.6" font-size="11.5" fill="#1c1c1c" stroke="#1c1c1c" stroke-width="0.25" font-family="'DejaVu Sans', 'Liberation Sans', sans-serif">304.27</text>
<text x="601.5" y="1117.5" font-size="11.5" fill="#1c1c1c" stroke="#1c1c1c" stroke-width="0.25" font-family="'DejaVu Sans', 'Liberation Sans', sans-serif">299.82</text>
<text x="601.5" y="1148.8" font-size="11.5" fill="#1c1c1c" stroke="#1c1c1c" stroke-width="0.25" font-family="'DejaVu Sans', 'Liberation Sans', sans-serif">293.15</text>
<text x="593.2" y="706.0" font-size="10" fill="#1c1c1c" stroke="#1c1c1c" stroke-width="0.2" font-family="'DejaVu Sans', 'Liberation Sans', sans-serif">K</text></g>
<g id="panelD"><defs><clipPath id="dall"><path d="M686.5,880.0H896.4V856.0H1013.6V880.0H1246.8V1164.6H686.5Z "/></clipPath><clipPath id="dsub"><rect x="686.5" y="880.0" width="560.3" height="284.5999999999999"/></clipPath><clipPath id="dlow"><rect x="686.5" y="896.9000000000001" width="560.3" height="267.6999999999998"/></clipPath><clipPath id="dup"><path d="M686.5,880.0H896.4V856.0H1013.6V880.0H1246.8V896.9000000000001H686.5Z"/></clipPath><clipPath id="ddisk"><rect x="896.4" y="856.0" width="117.20000000000005" height="24.0"/></clipPath></defs>
<g clip-path="url(#dall)">
<rect x="686.5" y="851.0" width="560.3" height="313.5999999999999" fill="#0008ff"/>
<g clip-path="url(#dsub)">
<ellipse cx="958.0" cy="880.0" rx="331.0" ry="323.0" fill="#0030ff" />
<ellipse cx="955.0" cy="880.0" rx="177.5" ry="166.0" fill="#0058ff" />
<ellipse cx="955.0" cy="880.0" rx="124.5" ry="108.5" fill="#0080ff" />
<ellipse cx="955.0" cy="880.0" rx="100.0" ry="77.0" fill="#00a8ff" />
<ellipse cx="955.0" cy="880.0" rx="85.0" ry="56.0" fill="#00d0ff" />
<ellipse cx="955.0" cy="880.0" rx="74.5" ry="41.0" fill="#00f8ff" />
<ellipse cx="955.0" cy="880.0" rx="65.0" ry="28.5" fill="#10ffef" />
</g>
<g clip-path="url(#dlow)">
<ellipse cx="955.0" cy="880.0" rx="40.0" ry="24.0" fill="#38ffc7" />
</g>
<g clip-path="url(#dup)">
<ellipse cx="955.0" cy="880.0" rx="65.0" ry="23.0" fill="#38ffc7" />
<ellipse cx="955.0" cy="880.0" rx="61.0" ry="20.0" fill="#60ff9f" />
<ellipse cx="955.0" cy="880.0" rx="56.0" ry="17.0" fill="#88ff77" />
<ellipse cx="955.0" cy="880.0" rx="49.0" ry="14.0" fill="#b0ff4f" />
<ellipse cx="955.0" cy="880.0" rx="38.0" ry="9.0" fill="#d8ff27" />
</g>
<g clip-path="url(#ddisk)">
<defs><linearGradient id="dDisk" x1="0" y1="856" x2="0" y2="880" gradientUnits="userSpaceOnUse"><stop offset="0" stop-color="#ff3800"/><stop offset="0.24" stop-color="#ff4800"/><stop offset="0.36" stop-color="#ff7000"/><stop offset="0.52" stop-color="#ffb000"/><stop offset="0.68" stop-color="#ffe800"/><stop offset="0.8" stop-color="#ffff00"/><stop offset="1" stop-color="#d8ff28"/></linearGradient></defs><rect x="890" y="850" width="130" height="32" fill="url(#dDisk)"/><ellipse cx="955.0" cy="856.0" rx="34.0" ry="7.0" fill="#ff1800" /><ellipse cx="955.0" cy="880.0" rx="42.0" ry="6.5" fill="#ffff00" opacity="0.8"/>
</g>

<rect x="686.5" y="893.2" width="560.3" height="7.399999999999977" fill="#000" opacity="0.40"/>
<rect x="686.5" y="896.7" width="560.3" height="2.2" fill="#000" opacity="0.42"/>
<rect x="686.5" y="892.7" width="560.3" height="1.2" fill="#000" opacity="0.25"/>
<rect x="686.5" y="879.4" width="560.3" height="1.3" fill="#000" opacity="0.62"/>
</g>
<g clip-path="url(#dall)">
<path d="M922.7,864.8L917.2,883.0" stroke="#f80808" stroke-width="1.7" fill="none" opacity="1.0"/><polygon points="915.3,889.2 914.8,882.3 919.5,883.7" fill="#f80808" opacity="1.0"/>
<path d="M955.0,864.2L955.0,883.3" stroke="#f80808" stroke-width="1.7" fill="none" opacity="1.0"/><polygon points="955.0,889.8 952.5,883.3 957.5,883.3" fill="#f80808" opacity="1.0"/>
<path d="M987.3,864.8L992.8,883.0" stroke="#f80808" stroke-width="1.7" fill="none" opacity="1.0"/><polygon points="994.7,889.2 990.5,883.7 995.2,882.3" fill="#f80808" opacity="1.0"/>
<path d="M709.2,916.0L700.7,917.5" stroke="#f80808" stroke-width="1.4449999999999998" fill="none" opacity="0.85"/><polygon points="696.8,918.2 700.4,916.0 701.0,919.0" fill="#f80808" opacity="0.85"/>
<path d="M745.7,915.7L736.3,917.7" stroke="#f80808" stroke-width="1.4449999999999998" fill="none" opacity="0.85"/><polygon points="732.3,918.5 736.0,916.2 736.6,919.1" fill="#f80808" opacity="0.85"/>
<path d="M782.2,915.3L771.9,917.9" stroke="#f80808" stroke-width="1.4449999999999998" fill="none" opacity="0.85"/><polygon points="767.8,918.9 771.5,916.3 772.3,919.4" fill="#f80808" opacity="0.85"/>
<path d="M818.8,914.6L807.5,918.2" stroke="#f80808" stroke-width="1.7" fill="none" opacity="0.95"/><polygon points="803.2,919.6 807.0,916.6 808.1,919.9" fill="#f80808" opacity="0.95"/>
<path d="M855.4,913.2L843.1,918.9" stroke="#f80808" stroke-width="1.7" fill="none" opacity="0.95"/><polygon points="838.6,921.0 842.3,917.2 843.9,920.6" fill="#f80808" opacity="0.95"/>
<path d="M891.3,910.3L879.0,920.3" stroke="#f80808" stroke-width="1.7" fill="none" opacity="0.95"/><polygon points="874.7,923.9 877.7,918.7 880.4,922.0" fill="#f80808" opacity="0.95"/>
<path d="M923.9,906.2L916.6,922.4" stroke="#f80808" stroke-width="1.7" fill="none" opacity="0.95"/><polygon points="914.1,928.0 914.5,921.5 918.7,923.4" fill="#f80808" opacity="0.95"/>
<path d="M955.0,904.9L955.0,923.1" stroke="#f80808" stroke-width="1.7" fill="none" opacity="0.95"/><polygon points="955.0,929.3 952.6,923.1 957.4,923.1" fill="#f80808" opacity="0.95"/>
<path d="M986.1,906.2L993.4,922.4" stroke="#f80808" stroke-width="1.7" fill="none" opacity="0.95"/><polygon points="995.9,928.0 991.3,923.4 995.5,921.5" fill="#f80808" opacity="0.95"/>
<path d="M1018.7,910.3L1031.0,920.3" stroke="#f80808" stroke-width="1.7" fill="none" opacity="0.95"/><polygon points="1035.3,923.9 1029.6,922.0 1032.3,918.7" fill="#f80808" opacity="0.95"/>
<path d="M1054.6,913.2L1066.9,918.9" stroke="#f80808" stroke-width="1.7" fill="none" opacity="0.95"/><polygon points="1071.4,921.0 1066.1,920.6 1067.7,917.2" fill="#f80808" opacity="0.95"/>
<path d="M1091.2,914.6L1102.5,918.2" stroke="#f80808" stroke-width="1.7" fill="none" opacity="0.95"/><polygon points="1106.8,919.6 1101.9,919.9 1103.0,916.6" fill="#f80808" opacity="0.95"/>
<path d="M1127.8,915.3L1138.1,917.9" stroke="#f80808" stroke-width="1.4449999999999998" fill="none" opacity="0.85"/><polygon points="1142.2,918.9 1137.7,919.4 1138.5,916.3" fill="#f80808" opacity="0.85"/>
<path d="M1164.3,915.7L1173.7,917.7" stroke="#f80808" stroke-width="1.4449999999999998" fill="none" opacity="0.85"/><polygon points="1177.7,918.5 1173.4,919.1 1174.0,916.2" fill="#f80808" opacity="0.85"/>
<path d="M1200.8,916.0L1209.3,917.5" stroke="#f80808" stroke-width="1.4449999999999998" fill="none" opacity="0.85"/><polygon points="1213.2,918.2 1209.0,919.0 1209.6,916.0" fill="#f80808" opacity="0.85"/>
<path d="M1237.1,916.2L1244.9,917.4" stroke="#f80808" stroke-width="1.4449999999999998" fill="none" opacity="0.85"/><polygon points="1248.9,918.0 1244.7,918.9 1245.1,915.9" fill="#f80808" opacity="0.85"/>
<path d="M708.9,955.2L700.9,957.9" stroke="#f80808" stroke-width="1.4449999999999998" fill="none" opacity="0.85"/><polygon points="697.1,959.2 700.4,956.5 701.4,959.3" fill="#f80808" opacity="0.85"/>
<path d="M745.2,954.8L736.6,958.2" stroke="#f80808" stroke-width="1.4449999999999998" fill="none" opacity="0.85"/><polygon points="732.8,959.6 736.0,956.8 737.1,959.6" fill="#f80808" opacity="0.85"/>
<path d="M781.4,954.1L772.3,958.5" stroke="#f80808" stroke-width="1.4449999999999998" fill="none" opacity="0.85"/><polygon points="768.6,960.3 771.6,957.1 772.9,959.9" fill="#f80808" opacity="0.85"/>
<path d="M817.6,953.1L808.1,959.0" stroke="#f80808" stroke-width="1.4449999999999998" fill="none" opacity="0.85"/><polygon points="804.4,961.3 807.2,957.6 809.0,960.4" fill="#f80808" opacity="0.85"/>
<path d="M853.4,951.7L844.1,959.7" stroke="#f80808" stroke-width="1.7" fill="none" opacity="0.95"/><polygon points="840.6,962.7 843.0,958.3 845.3,961.0" fill="#f80808" opacity="0.95"/>
<path d="M888.5,949.7L880.5,960.6" stroke="#f80808" stroke-width="1.7" fill="none" opacity="0.95"/><polygon points="877.5,964.7 879.0,959.5 882.0,961.8" fill="#f80808" opacity="0.95"/>
<path d="M922.2,947.9L917.5,961.6" stroke="#f80808" stroke-width="1.7" fill="none" opacity="0.95"/><polygon points="915.8,966.5 915.6,960.9 919.4,962.2" fill="#f80808" opacity="0.95"/>
<path d="M955.0,947.1L955.0,961.9" stroke="#f80808" stroke-width="1.7" fill="none" opacity="0.95"/><polygon points="955.0,967.3 953.0,961.9 957.0,961.9" fill="#f80808" opacity="0.95"/>
<path d="M987.8,947.9L992.5,961.6" stroke="#f80808" stroke-width="1.7" fill="none" opacity="0.95"/><polygon points="994.2,966.5 990.6,962.2 994.4,960.9" fill="#f80808" opacity="0.95"/>
<path d="M1021.5,949.7L1029.5,960.6" stroke="#f80808" stroke-width="1.7" fill="none" opacity="0.95"/><polygon points="1032.5,964.7 1028.0,961.8 1031.0,959.5" fill="#f80808" opacity="0.95"/>
<path d="M1056.6,951.7L1065.9,959.7" stroke="#f80808" stroke-width="1.7" fill="none" opacity="0.95"/><polygon points="1069.4,962.7 1064.7,961.0 1067.0,958.3" fill="#f80808" opacity="0.95"/>
<path d="M1092.4,953.1L1101.9,959.0" stroke="#f80808" stroke-width="1.4449999999999998" fill="none" opacity="0.85"/><polygon points="1105.6,961.3 1101.0,960.4 1102.8,957.6" fill="#f80808" opacity="0.85"/>
<path d="M1128.6,954.1L1137.7,958.5" stroke="#f80808" stroke-width="1.4449999999999998" fill="none" opacity="0.85"/><polygon points="1141.4,960.3 1137.1,959.9 1138.4,957.1" fill="#f80808" opacity="0.85"/>
<path d="M1164.8,954.8L1173.4,958.2" stroke="#f80808" stroke-width="1.4449999999999998" fill="none" opacity="0.85"/><polygon points="1177.2,959.6 1172.9,959.6 1174.0,956.8" fill="#f80808" opacity="0.85"/>
<path d="M1201.1,955.2L1209.1,957.9" stroke="#f80808" stroke-width="1.4449999999999998" fill="none" opacity="0.85"/><polygon points="1212.9,959.2 1208.6,959.3 1209.6,956.5" fill="#f80808" opacity="0.85"/>
<path d="M1237.4,955.6L1244.8,957.7" stroke="#f80808" stroke-width="1.4449999999999998" fill="none" opacity="0.85"/><polygon points="1248.6,958.8 1244.4,959.2 1245.2,956.3" fill="#f80808" opacity="0.85"/>
<path d="M708.4,994.6L701.2,998.2" stroke="#f80808" stroke-width="1.4449999999999998" fill="none" opacity="0.85"/><polygon points="697.6,1000.0 700.5,996.9 701.8,999.6" fill="#f80808" opacity="0.85"/>
<path d="M744.5,994.1L736.9,998.5" stroke="#f80808" stroke-width="1.4449999999999998" fill="none" opacity="0.85"/><polygon points="733.5,1000.5 736.2,997.2 737.7,999.8" fill="#f80808" opacity="0.85"/>
<path d="M780.5,993.4L772.7,998.9" stroke="#f80808" stroke-width="1.4449999999999998" fill="none" opacity="0.85"/><polygon points="769.5,1001.2 771.8,997.7 773.6,1000.2" fill="#f80808" opacity="0.85"/>
<path d="M816.4,992.4L808.7,999.4" stroke="#f80808" stroke-width="1.4449999999999998" fill="none" opacity="0.85"/><polygon points="805.6,1002.2 807.6,998.2 809.8,1000.6" fill="#f80808" opacity="0.85"/>
<path d="M851.9,991.3L844.9,999.9" stroke="#f80808" stroke-width="1.4449999999999998" fill="none" opacity="0.85"/><polygon points="842.1,1003.3 843.6,998.9 846.1,1001.0" fill="#f80808" opacity="0.85"/>
<path d="M886.8,990.1L881.3,1000.5" stroke="#f80808" stroke-width="1.7" fill="none" opacity="0.95"/><polygon points="879.2,1004.5 879.8,999.7 882.8,1001.3" fill="#f80808" opacity="0.95"/>
<path d="M921.1,989.1L918.0,1001.0" stroke="#f80808" stroke-width="1.7" fill="none" opacity="0.95"/><polygon points="916.9,1005.5 916.3,1000.6 919.8,1001.5" fill="#f80808" opacity="0.95"/>
<path d="M955.0,988.7L955.0,1001.2" stroke="#f80808" stroke-width="1.7" fill="none" opacity="0.95"/><polygon points="955.0,1005.9 953.2,1001.2 956.8,1001.2" fill="#f80808" opacity="0.95"/>
<path d="M988.9,989.1L992.0,1001.0" stroke="#f80808" stroke-width="1.7" fill="none" opacity="0.95"/><polygon points="993.1,1005.5 990.2,1001.5 993.7,1000.6" fill="#f80808" opacity="0.95"/>
<path d="M1023.2,990.1L1028.7,1000.5" stroke="#f80808" stroke-width="1.7" fill="none" opacity="0.95"/><polygon points="1030.8,1004.5 1027.2,1001.3 1030.2,999.7" fill="#f80808" opacity="0.95"/>
<path d="M1058.1,991.3L1065.1,999.9" stroke="#f80808" stroke-width="1.4449999999999998" fill="none" opacity="0.85"/><polygon points="1067.9,1003.3 1063.9,1001.0 1066.4,998.9" fill="#f80808" opacity="0.85"/>
<path d="M1093.6,992.4L1101.3,999.4" stroke="#f80808" stroke-width="1.4449999999999998" fill="none" opacity="0.85"/><polygon points="1104.4,1002.2 1100.2,1000.6 1102.4,998.2" fill="#f80808" opacity="0.85"/>
<path d="M1129.5,993.4L1137.3,998.9" stroke="#f80808" stroke-width="1.4449999999999998" fill="none" opacity="0.85"/><polygon points="1140.5,1001.2 1136.4,1000.2 1138.2,997.7" fill="#f80808" opacity="0.85"/>
<path d="M1165.5,994.1L1173.1,998.5" stroke="#f80808" stroke-width="1.4449999999999998" fill="none" opacity="0.85"/><polygon points="1176.5,1000.5 1172.3,999.8 1173.8,997.2" fill="#f80808" opacity="0.85"/>
<path d="M1201.6,994.6L1208.8,998.2" stroke="#f80808" stroke-width="1.4449999999999998" fill="none" opacity="0.85"/><polygon points="1212.4,1000.0 1208.2,999.6 1209.5,996.9" fill="#f80808" opacity="0.85"/>
<path d="M1237.7,995.0L1244.6,998.0" stroke="#f80808" stroke-width="1.4449999999999998" fill="none" opacity="0.85"/><polygon points="1248.3,999.6 1244.0,999.4 1245.2,996.6" fill="#f80808" opacity="0.85"/>
<path d="M707.9,1034.2L701.5,1038.4" stroke="#f80808" stroke-width="1.4449999999999998" fill="none" opacity="0.85"/><polygon points="698.1,1040.6 700.6,1037.2 702.3,1039.7" fill="#f80808" opacity="0.85"/>
<path d="M743.9,1033.6L737.3,1038.7" stroke="#f80808" stroke-width="1.4449999999999998" fill="none" opacity="0.85"/><polygon points="734.1,1041.2 736.4,1037.5 738.2,1039.9" fill="#f80808" opacity="0.85"/>
<path d="M779.7,1033.0L773.2,1039.1" stroke="#f80808" stroke-width="1.4449999999999998" fill="none" opacity="0.85"/><polygon points="770.3,1041.8 772.2,1038.0 774.3,1040.2" fill="#f80808" opacity="0.85"/>
<path d="M815.4,1032.2L809.2,1039.5" stroke="#f80808" stroke-width="1.4449999999999998" fill="none" opacity="0.85"/><polygon points="806.6,1042.6 808.0,1038.5 810.4,1040.5" fill="#f80808" opacity="0.85"/>
<path d="M850.8,1031.4L845.4,1040.0" stroke="#f80808" stroke-width="1.4449999999999998" fill="none" opacity="0.85"/><polygon points="843.2,1043.4 844.1,1039.1 846.7,1040.8" fill="#f80808" opacity="0.85"/>
<path d="M885.8,1030.6L881.8,1040.3" stroke="#f80808" stroke-width="1.4449999999999998" fill="none" opacity="0.85"/><polygon points="880.2,1044.2 880.3,1039.7 883.3,1041.0" fill="#f80808" opacity="0.85"/>
<path d="M920.5,1030.0L918.3,1040.6" stroke="#f80808" stroke-width="1.4449999999999998" fill="none" opacity="0.85"/><polygon points="917.5,1044.8 916.7,1040.3 919.9,1041.0" fill="#f80808" opacity="0.85"/>
<path d="M955.0,1029.7L955.0,1040.7" stroke="#f80808" stroke-width="1.4449999999999998" fill="none" opacity="0.85"/><polygon points="955.0,1045.1 953.4,1040.7 956.6,1040.7" fill="#f80808" opacity="0.85"/>
<path d="M989.5,1030.0L991.7,1040.6" stroke="#f80808" stroke-width="1.4449999999999998" fill="none" opacity="0.85"/><polygon points="992.5,1044.8 990.1,1041.0 993.3,1040.3" fill="#f80808" opacity="0.85"/>
<path d="M1024.2,1030.6L1028.2,1040.3" stroke="#f80808" stroke-width="1.4449999999999998" fill="none" opacity="0.85"/><polygon points="1029.8,1044.2 1026.7,1041.0 1029.7,1039.7" fill="#f80808" opacity="0.85"/>
<path d="M1059.2,1031.4L1064.6,1040.0" stroke="#f80808" stroke-width="1.4449999999999998" fill="none" opacity="0.85"/><polygon points="1066.8,1043.4 1063.3,1040.8 1065.9,1039.1" fill="#f80808" opacity="0.85"/>
<path d="M1094.6,1032.2L1100.8,1039.5" stroke="#f80808" stroke-width="1.4449999999999998" fill="none" opacity="0.85"/><polygon points="1103.4,1042.6 1099.6,1040.5 1102.0,1038.5" fill="#f80808" opacity="0.85"/>
<path d="M1130.3,1033.0L1136.8,1039.1" stroke="#f80808" stroke-width="1.4449999999999998" fill="none" opacity="0.85"/><polygon points="1139.7,1041.8 1135.7,1040.2 1137.8,1038.0" fill="#f80808" opacity="0.85"/>
<path d="M1166.1,1033.6L1172.7,1038.7" stroke="#f80808" stroke-width="1.4449999999999998" fill="none" opacity="0.85"/><polygon points="1175.9,1041.2 1171.8,1039.9 1173.6,1037.5" fill="#f80808" opacity="0.85"/>
<path d="M1202.1,1034.2L1208.5,1038.4" stroke="#f80808" stroke-width="1.4449999999999998" fill="none" opacity="0.85"/><polygon points="1211.9,1040.6 1207.7,1039.7 1209.4,1037.2" fill="#f80808" opacity="0.85"/>
<path d="M1238.2,1034.6L1244.4,1038.2" stroke="#f80808" stroke-width="1.4449999999999998" fill="none" opacity="0.85"/><polygon points="1247.8,1040.2 1243.6,1039.5 1245.1,1036.9" fill="#f80808" opacity="0.85"/>
<path d="M707.4,1073.9L701.7,1078.5" stroke="#f80808" stroke-width="1.4449999999999998" fill="none" opacity="0.85"/><polygon points="698.6,1081.1 700.8,1077.4 702.7,1079.7" fill="#f80808" opacity="0.85"/>
<path d="M743.2,1073.4L737.6,1078.8" stroke="#f80808" stroke-width="1.4449999999999998" fill="none" opacity="0.85"/><polygon points="734.8,1081.6 736.6,1077.7 738.7,1079.9" fill="#f80808" opacity="0.85"/>
<path d="M779.0,1072.9L773.6,1079.1" stroke="#f80808" stroke-width="1.4449999999999998" fill="none" opacity="0.85"/><polygon points="771.0,1082.1 772.5,1078.1 774.8,1080.1" fill="#f80808" opacity="0.85"/>
<path d="M814.6,1072.3L809.7,1079.4" stroke="#f80808" stroke-width="1.4449999999999998" fill="none" opacity="0.85"/><polygon points="807.4,1082.7 808.4,1078.6 810.9,1080.3" fill="#f80808" opacity="0.85"/>
<path d="M850.0,1071.6L845.8,1079.8" stroke="#f80808" stroke-width="1.4449999999999998" fill="none" opacity="0.85"/><polygon points="844.0,1083.4 844.5,1079.1 847.2,1080.5" fill="#f80808" opacity="0.85"/>
<path d="M885.2,1071.1L882.1,1080.1" stroke="#f80808" stroke-width="1.4449999999999998" fill="none" opacity="0.85"/><polygon points="880.8,1083.9 880.7,1079.6 883.5,1080.6" fill="#f80808" opacity="0.85"/>
<path d="M920.2,1070.7L918.5,1080.4" stroke="#f80808" stroke-width="1.4449999999999998" fill="none" opacity="0.85"/><polygon points="917.8,1084.3 917.0,1080.1 920.0,1080.6" fill="#f80808" opacity="0.85"/>
<path d="M955.0,1070.6L955.0,1080.4" stroke="#f80808" stroke-width="1.4449999999999998" fill="none" opacity="0.85"/><polygon points="955.0,1084.4 953.5,1080.4 956.5,1080.4" fill="#f80808" opacity="0.85"/>
<path d="M989.8,1070.7L991.5,1080.4" stroke="#f80808" stroke-width="1.4449999999999998" fill="none" opacity="0.85"/><polygon points="992.2,1084.3 990.0,1080.6 993.0,1080.1" fill="#f80808" opacity="0.85"/>
<path d="M1024.8,1071.1L1027.9,1080.1" stroke="#f80808" stroke-width="1.4449999999999998" fill="none" opacity="0.85"/><polygon points="1029.2,1083.9 1026.5,1080.6 1029.3,1079.6" fill="#f80808" opacity="0.85"/>
<path d="M1060.0,1071.6L1064.2,1079.8" stroke="#f80808" stroke-width="1.4449999999999998" fill="none" opacity="0.85"/><polygon points="1066.0,1083.4 1062.8,1080.5 1065.5,1079.1" fill="#f80808" opacity="0.85"/>
<path d="M1095.4,1072.3L1100.3,1079.4" stroke="#f80808" stroke-width="1.4449999999999998" fill="none" opacity="0.85"/><polygon points="1102.6,1082.7 1099.1,1080.3 1101.6,1078.6" fill="#f80808" opacity="0.85"/>
<path d="M1131.0,1072.9L1136.4,1079.1" stroke="#f80808" stroke-width="1.4449999999999998" fill="none" opacity="0.85"/><polygon points="1139.0,1082.1 1135.2,1080.1 1137.5,1078.1" fill="#f80808" opacity="0.85"/>
<path d="M1166.8,1073.4L1172.4,1078.8" stroke="#f80808" stroke-width="1.4449999999999998" fill="none" opacity="0.85"/><polygon points="1175.2,1081.6 1171.3,1079.9 1173.4,1077.7" fill="#f80808" opacity="0.85"/>
<path d="M1202.6,1073.9L1208.3,1078.5" stroke="#f80808" stroke-width="1.4449999999999998" fill="none" opacity="0.85"/><polygon points="1211.4,1081.1 1207.3,1079.7 1209.2,1077.4" fill="#f80808" opacity="0.85"/>
<path d="M1238.6,1074.3L1244.2,1078.3" stroke="#f80808" stroke-width="1.4449999999999998" fill="none" opacity="0.85"/><polygon points="1247.4,1080.7 1243.3,1079.6 1245.0,1077.1" fill="#f80808" opacity="0.85"/>
<path d="M706.9,1113.8L702.0,1118.6" stroke="#f80808" stroke-width="1.4449999999999998" fill="none" opacity="0.85"/><polygon points="699.1,1121.4 700.9,1117.5 703.0,1119.7" fill="#f80808" opacity="0.85"/>
<path d="M742.7,1113.4L737.9,1118.8" stroke="#f80808" stroke-width="1.4449999999999998" fill="none" opacity="0.85"/><polygon points="735.3,1121.8 736.8,1117.8 739.1,1119.8" fill="#f80808" opacity="0.85"/>
<path d="M778.4,1112.9L773.9,1119.1" stroke="#f80808" stroke-width="1.4449999999999998" fill="none" opacity="0.85"/><polygon points="771.6,1122.3 772.7,1118.2 775.2,1120.0" fill="#f80808" opacity="0.85"/>
<path d="M814.0,1112.4L810.0,1119.3" stroke="#f80808" stroke-width="1.4449999999999998" fill="none" opacity="0.85"/><polygon points="808.0,1122.8 808.7,1118.6 811.3,1120.1" fill="#f80808" opacity="0.85"/>
<path d="M849.4,1111.9L846.1,1119.6" stroke="#f80808" stroke-width="1.4449999999999998" fill="none" opacity="0.85"/><polygon points="844.6,1123.3 844.8,1119.0 847.5,1120.2" fill="#f80808" opacity="0.85"/>
<path d="M884.7,1111.6L882.4,1119.8" stroke="#f80808" stroke-width="1.4449999999999998" fill="none" opacity="0.85"/><polygon points="881.3,1123.6 880.9,1119.4 883.8,1120.2" fill="#f80808" opacity="0.85"/>
<path d="M919.9,1111.3L918.7,1119.9" stroke="#f80808" stroke-width="1.4449999999999998" fill="none" opacity="0.85"/><polygon points="918.1,1123.9 917.2,1119.7 920.2,1120.2" fill="#f80808" opacity="0.85"/>
<path d="M955.0,1111.2L955.0,1120.0" stroke="#f80808" stroke-width="1.4449999999999998" fill="none" opacity="0.85"/><polygon points="955.0,1124.0 953.5,1120.0 956.5,1120.0" fill="#f80808" opacity="0.85"/>
<path d="M990.1,1111.3L991.3,1119.9" stroke="#f80808" stroke-width="1.4449999999999998" fill="none" opacity="0.85"/><polygon points="991.9,1123.9 989.8,1120.2 992.8,1119.7" fill="#f80808" opacity="0.85"/>
<path d="M1025.3,1111.6L1027.6,1119.8" stroke="#f80808" stroke-width="1.4449999999999998" fill="none" opacity="0.85"/><polygon points="1028.7,1123.6 1026.2,1120.2 1029.1,1119.4" fill="#f80808" opacity="0.85"/>
<path d="M1060.6,1111.9L1063.9,1119.6" stroke="#f80808" stroke-width="1.4449999999999998" fill="none" opacity="0.85"/><polygon points="1065.4,1123.3 1062.5,1120.2 1065.2,1119.0" fill="#f80808" opacity="0.85"/>
<path d="M1096.0,1112.4L1100.0,1119.3" stroke="#f80808" stroke-width="1.4449999999999998" fill="none" opacity="0.85"/><polygon points="1102.0,1122.8 1098.7,1120.1 1101.3,1118.6" fill="#f80808" opacity="0.85"/>
<path d="M1131.6,1112.9L1136.1,1119.1" stroke="#f80808" stroke-width="1.4449999999999998" fill="none" opacity="0.85"/><polygon points="1138.4,1122.3 1134.8,1120.0 1137.3,1118.2" fill="#f80808" opacity="0.85"/>
<path d="M1167.3,1113.4L1172.1,1118.8" stroke="#f80808" stroke-width="1.4449999999999998" fill="none" opacity="0.85"/><polygon points="1174.7,1121.8 1170.9,1119.8 1173.2,1117.8" fill="#f80808" opacity="0.85"/>
<path d="M1203.1,1113.8L1208.0,1118.6" stroke="#f80808" stroke-width="1.4449999999999998" fill="none" opacity="0.85"/><polygon points="1210.9,1121.4 1207.0,1119.7 1209.1,1117.5" fill="#f80808" opacity="0.85"/>
<path d="M1239.0,1114.2L1243.9,1118.4" stroke="#f80808" stroke-width="1.4449999999999998" fill="none" opacity="0.85"/><polygon points="1247.0,1121.0 1243.0,1119.6 1244.9,1117.3" fill="#f80808" opacity="0.85"/>
<path d="M706.5,1153.8L702.2,1158.6" stroke="#f80808" stroke-width="1.4449999999999998" fill="none" opacity="0.85"/><polygon points="699.5,1161.6 701.0,1157.6 703.3,1159.6" fill="#f80808" opacity="0.85"/>
<path d="M742.2,1153.4L738.2,1158.8" stroke="#f80808" stroke-width="1.4449999999999998" fill="none" opacity="0.85"/><polygon points="735.8,1162.0 737.0,1157.9 739.4,1159.7" fill="#f80808" opacity="0.85"/>
<path d="M777.9,1153.0L774.2,1159.0" stroke="#f80808" stroke-width="1.4449999999999998" fill="none" opacity="0.85"/><polygon points="772.1,1162.4 772.9,1158.2 775.5,1159.8" fill="#f80808" opacity="0.85"/>
<path d="M813.5,1152.6L810.3,1159.2" stroke="#f80808" stroke-width="1.4449999999999998" fill="none" opacity="0.85"/><polygon points="808.5,1162.8 808.9,1158.5 811.6,1159.9" fill="#f80808" opacity="0.85"/>
<path d="M849.0,1152.3L846.4,1159.4" stroke="#f80808" stroke-width="1.4449999999999998" fill="none" opacity="0.85"/><polygon points="845.0,1163.1 844.9,1158.8 847.8,1159.9" fill="#f80808" opacity="0.85"/>
<path d="M884.4,1152.0L882.5,1159.5" stroke="#f80808" stroke-width="1.4449999999999998" fill="none" opacity="0.85"/><polygon points="881.6,1163.4 881.1,1159.2 884.0,1159.9" fill="#f80808" opacity="0.85"/>
<path d="M919.7,1151.8L918.8,1159.6" stroke="#f80808" stroke-width="1.4449999999999998" fill="none" opacity="0.85"/><polygon points="918.3,1163.6 917.3,1159.4 920.3,1159.8" fill="#f80808" opacity="0.85"/>
<path d="M955.0,1151.7L955.0,1159.7" stroke="#f80808" stroke-width="1.4449999999999998" fill="none" opacity="0.85"/><polygon points="955.0,1163.7 953.5,1159.7 956.5,1159.7" fill="#f80808" opacity="0.85"/>
<path d="M990.3,1151.8L991.2,1159.6" stroke="#f80808" stroke-width="1.4449999999999998" fill="none" opacity="0.85"/><polygon points="991.7,1163.6 989.7,1159.8 992.7,1159.4" fill="#f80808" opacity="0.85"/>
<path d="M1025.6,1152.0L1027.5,1159.5" stroke="#f80808" stroke-width="1.4449999999999998" fill="none" opacity="0.85"/><polygon points="1028.4,1163.4 1026.0,1159.9 1028.9,1159.2" fill="#f80808" opacity="0.85"/>
<path d="M1061.0,1152.3L1063.6,1159.4" stroke="#f80808" stroke-width="1.4449999999999998" fill="none" opacity="0.85"/><polygon points="1065.0,1163.1 1062.2,1159.9 1065.1,1158.8" fill="#f80808" opacity="0.85"/>
<path d="M1096.5,1152.6L1099.7,1159.2" stroke="#f80808" stroke-width="1.4449999999999998" fill="none" opacity="0.85"/><polygon points="1101.5,1162.8 1098.4,1159.9 1101.1,1158.5" fill="#f80808" opacity="0.85"/>
<path d="M1132.1,1153.0L1135.8,1159.0" stroke="#f80808" stroke-width="1.4449999999999998" fill="none" opacity="0.85"/><polygon points="1137.9,1162.4 1134.5,1159.8 1137.1,1158.2" fill="#f80808" opacity="0.85"/>
<path d="M1167.8,1153.4L1171.8,1158.8" stroke="#f80808" stroke-width="1.4449999999999998" fill="none" opacity="0.85"/><polygon points="1174.2,1162.0 1170.6,1159.7 1173.0,1157.9" fill="#f80808" opacity="0.85"/>
<path d="M1203.5,1153.8L1207.8,1158.6" stroke="#f80808" stroke-width="1.4449999999999998" fill="none" opacity="0.85"/><polygon points="1210.5,1161.6 1206.7,1159.6 1209.0,1157.6" fill="#f80808" opacity="0.85"/>
<path d="M1239.4,1154.1L1243.8,1158.5" stroke="#f80808" stroke-width="1.4449999999999998" fill="none" opacity="0.85"/><polygon points="1246.6,1161.3 1242.7,1159.5 1244.8,1157.4" fill="#f80808" opacity="0.85"/>
</g>
<rect x="896.4" y="861.50" width="117.20000000000005" height="2.8" fill="#000" opacity="0.97"/>
<rect x="896.4" y="872.00" width="117.20000000000005" height="1.2" fill="#000" opacity="0.75"/>
<path d="M896.8,880.0V856.0M1013.2,880.0V856.0" fill="none" stroke="#0a0000" stroke-width="1.2" opacity="0.9"/>
<rect x="896.4" y="856.0" width="117.20000000000005" height="2.2" fill="#0a0000" opacity="0.95"/>

<rect x="1067.7" y="1136" width="146.5" height="7.1" fill="#fff"/>
<text transform="translate(0,1128.70) scale(1.0160,1)" font-family="'Liberation Sans', sans-serif" font-size="35.20" fill="#ffffff" xml:space="preserve" ><tspan x="695.63" y="0">8 </tspan><tspan x="725.70" y="0">μm </tspan><tspan x="783.58" y="0">microdisk</tspan></text>
<text transform="translate(0,1118.70) scale(1.0096,1)" font-family="'Liberation Sans', sans-serif" font-size="35.20" fill="#ffffff" xml:space="preserve" ><tspan x="1081.40" y="0">20 </tspan><tspan x="1131.11" y="0">μm</tspan></text>
<rect x="1261.4" y="727.30" width="15.2" height="10.86" fill="#ff1000"/>
<rect x="1261.4" y="737.75" width="15.2" height="21.31" fill="#ff3800"/>
<rect x="1261.4" y="758.66" width="15.2" height="21.31" fill="#ff6000"/>
<rect x="1261.4" y="779.57" width="15.2" height="21.31" fill="#ff8800"/>
<rect x="1261.4" y="800.48" width="15.2" height="21.31" fill="#ffb000"/>
<rect x="1261.4" y="821.39" width="15.2" height="21.31" fill="#ffd800"/>
<rect x="1261.4" y="842.30" width="15.2" height="21.31" fill="#ffff00"/>
<rect x="1261.4" y="863.21" width="15.2" height="21.31" fill="#d8ff27"/>
<rect x="1261.4" y="884.12" width="15.2" height="21.31" fill="#b0ff4f"/>
<rect x="1261.4" y="905.03" width="15.2" height="21.31" fill="#88ff77"/>
<rect x="1261.4" y="925.94" width="15.2" height="21.31" fill="#60ff9f"/>
<rect x="1261.4" y="946.85" width="15.2" height="21.31" fill="#38ffc7"/>
<rect x="1261.4" y="967.76" width="15.2" height="21.31" fill="#10ffef"/>
<rect x="1261.4" y="988.67" width="15.2" height="21.31" fill="#00f8ff"/>
<rect x="1261.4" y="1009.58" width="15.2" height="21.31" fill="#00d0ff"/>
<rect x="1261.4" y="1030.49" width="15.2" height="21.31" fill="#00a8ff"/>
<rect x="1261.4" y="1051.40" width="15.2" height="21.31" fill="#0080ff"/>
<rect x="1261.4" y="1072.31" width="15.2" height="21.31" fill="#0058ff"/>
<rect x="1261.4" y="1093.22" width="15.2" height="21.31" fill="#0030ff"/>
<rect x="1261.4" y="1114.13" width="15.2" height="31.77" fill="#0008ff"/>
<rect x="1261.4" y="727.3" width="15.2" height="418.2" fill="none" stroke="#303030" stroke-width="0.9" opacity="0.8"/>
<path d="M1261.4,737.75h2.6M1276.6,737.75h-2.6" stroke="#000" stroke-width="1.1" opacity="0.9"/>
<path d="M1261.4,758.66h2.6M1276.6,758.66h-2.6" stroke="#000" stroke-width="1.1" opacity="0.9"/>
<path d="M1261.4,779.57h2.6M1276.6,779.57h-2.6" stroke="#000" stroke-width="1.1" opacity="0.9"/>
<path d="M1261.4,800.48h2.6M1276.6,800.48h-2.6" stroke="#000" stroke-width="1.1" opacity="0.9"/>
<path d="M1261.4,821.39h2.6M1276.6,821.39h-2.6" stroke="#000" stroke-width="1.1" opacity="0.9"/>
<path d="M1261.4,842.30h2.6M1276.6,842.30h-2.6" stroke="#000" stroke-width="1.1" opacity="0.9"/>
<path d="M1261.4,863.21h2.6M1276.6,863.21h-2.6" stroke="#000" stroke-width="1.1" opacity="0.9"/>
<path d="M1261.4,884.12h2.6M1276.6,884.12h-2.6" stroke="#000" stroke-width="1.1" opacity="0.9"/>
<path d="M1261.4,905.03h2.6M1276.6,905.03h-2.6" stroke="#000" stroke-width="1.1" opacity="0.9"/>
<path d="M1261.4,925.94h2.6M1276.6,925.94h-2.6" stroke="#000" stroke-width="1.1" opacity="0.9"/>
<path d="M1261.4,946.85h2.6M1276.6,946.85h-2.6" stroke="#000" stroke-width="1.1" opacity="0.9"/>
<path d="M1261.4,967.76h2.6M1276.6,967.76h-2.6" stroke="#000" stroke-width="1.1" opacity="0.9"/>
<path d="M1261.4,988.67h2.6M1276.6,988.67h-2.6" stroke="#000" stroke-width="1.1" opacity="0.9"/>
<path d="M1261.4,1009.58h2.6M1276.6,1009.58h-2.6" stroke="#000" stroke-width="1.1" opacity="0.9"/>
<path d="M1261.4,1030.49h2.6M1276.6,1030.49h-2.6" stroke="#000" stroke-width="1.1" opacity="0.9"/>
<path d="M1261.4,1051.40h2.6M1276.6,1051.40h-2.6" stroke="#000" stroke-width="1.1" opacity="0.9"/>
<path d="M1261.4,1072.31h2.6M1276.6,1072.31h-2.6" stroke="#000" stroke-width="1.1" opacity="0.9"/>
<path d="M1261.4,1093.22h2.6M1276.6,1093.22h-2.6" stroke="#000" stroke-width="1.1" opacity="0.9"/>
<path d="M1261.4,1114.13h2.6M1276.6,1114.13h-2.6" stroke="#000" stroke-width="1.1" opacity="0.9"/>
<text x="1282.4" y="742.2" font-size="11.5" fill="#1c1c1c" stroke="#1c1c1c" stroke-width="0.25" font-family="'DejaVu Sans', 'Liberation Sans', sans-serif">334.79</text>
<text x="1282.4" y="763.1" font-size="11.5" fill="#1c1c1c" stroke="#1c1c1c" stroke-width="0.25" font-family="'DejaVu Sans', 'Liberation Sans', sans-serif">332.65</text>
<text x="1282.4" y="784.0" font-size="11.5" fill="#1c1c1c" stroke="#1c1c1c" stroke-width="0.25" font-family="'DejaVu Sans', 'Liberation Sans', sans-serif">330.52</text>
<text x="1282.4" y="804.9" font-size="11.5" fill="#1c1c1c" stroke="#1c1c1c" stroke-width="0.25" font-family="'DejaVu Sans', 'Liberation Sans', sans-serif">328.38</text>
<text x="1282.4" y="825.8" font-size="11.5" fill="#1c1c1c" stroke="#1c1c1c" stroke-width="0.25" font-family="'DejaVu Sans', 'Liberation Sans', sans-serif">326.25</text>
<text x="1282.4" y="846.7" font-size="11.5" fill="#1c1c1c" stroke="#1c1c1c" stroke-width="0.25" font-family="'DejaVu Sans', 'Liberation Sans', sans-serif">324.11</text>
<text x="1282.4" y="867.6" font-size="11.5" fill="#1c1c1c" stroke="#1c1c1c" stroke-width="0.25" font-family="'DejaVu Sans', 'Liberation Sans', sans-serif">321.97</text>
<text x="1282.4" y="888.5" font-size="11.5" fill="#1c1c1c" stroke="#1c1c1c" stroke-width="0.25" font-family="'DejaVu Sans', 'Liberation Sans', sans-serif">319.84</text>
<text x="1282.4" y="909.4" font-size="11.5" fill="#1c1c1c" stroke="#1c1c1c" stroke-width="0.25" font-family="'DejaVu Sans', 'Liberation Sans', sans-serif">317.7</text>
<text x="1282.4" y="930.3" font-size="11.5" fill="#1c1c1c" stroke="#1c1c1c" stroke-width="0.25" font-family="'DejaVu Sans', 'Liberation Sans', sans-serif">315.57</text>
<text x="1282.4" y="951.3" font-size="11.5" fill="#1c1c1c" stroke="#1c1c1c" stroke-width="0.25" font-family="'DejaVu Sans', 'Liberation Sans', sans-serif">313.43</text>
<text x="1282.4" y="972.2" font-size="11.5" fill="#1c1c1c" stroke="#1c1c1c" stroke-width="0.25" font-family="'DejaVu Sans', 'Liberation Sans', sans-serif">311.3</text>
<text x="1282.4" y="993.1" font-size="11.5" fill="#1c1c1c" stroke="#1c1c1c" stroke-width="0.25" font-family="'DejaVu Sans', 'Liberation Sans', sans-serif">309.16</text>
<text x="1282.4" y="1014.0" font-size="11.5" fill="#1c1c1c" stroke="#1c1c1c" stroke-width="0.25" font-family="'DejaVu Sans', 'Liberation Sans', sans-serif">307.03</text>
<text x="1282.4" y="1034.9" font-size="11.5" fill="#1c1c1c" stroke="#1c1c1c" stroke-width="0.25" font-family="'DejaVu Sans', 'Liberation Sans', sans-serif">304.89</text>
<text x="1282.4" y="1055.8" font-size="11.5" fill="#1c1c1c" stroke="#1c1c1c" stroke-width="0.25" font-family="'DejaVu Sans', 'Liberation Sans', sans-serif">302.76</text>
<text x="1282.4" y="1076.7" font-size="11.5" fill="#1c1c1c" stroke="#1c1c1c" stroke-width="0.25" font-family="'DejaVu Sans', 'Liberation Sans', sans-serif">300.62</text>
<text x="1282.4" y="1097.6" font-size="11.5" fill="#1c1c1c" stroke="#1c1c1c" stroke-width="0.25" font-family="'DejaVu Sans', 'Liberation Sans', sans-serif">298.49</text>
<text x="1282.4" y="1118.5" font-size="11.5" fill="#1c1c1c" stroke="#1c1c1c" stroke-width="0.25" font-family="'DejaVu Sans', 'Liberation Sans', sans-serif">296.35</text>
<text x="1282.4" y="1149.9" font-size="11.5" fill="#1c1c1c" stroke="#1c1c1c" stroke-width="0.25" font-family="'DejaVu Sans', 'Liberation Sans', sans-serif">293.15</text>
<text x="1275.0" y="706.5" font-size="10" fill="#1c1c1c" stroke="#1c1c1c" stroke-width="0.2" font-family="'DejaVu Sans', 'Liberation Sans', sans-serif">K</text></g>
<g id="panelE"><defs><clipPath id="eall"><path d="M1358.2,877.0H1571.3V848.5H1687.9V877.0H1919.7V1162.0H1358.2Z M1687,848.5H1919.7V853.8H1687Z M1847.2,853H1919.7V878H1847.2Z"/></clipPath><clipPath id="esub"><rect x="1358.2" y="877.0" width="561.5" height="285.0"/></clipPath><clipPath id="elow"><rect x="1358.2" y="893.95" width="561.5" height="268.04999999999995"/></clipPath><clipPath id="eup"><path d="M1358.2,877.0H1571.3V848.5H1687.9V877.0H1919.7V893.95H1358.2Z"/></clipPath><clipPath id="edisk"><rect x="1571.3" y="848.5" width="116.60000000000014" height="28.5"/></clipPath></defs>
<g clip-path="url(#eall)">
<rect x="1358.2" y="843.5" width="561.5" height="318.5" fill="#0008ff"/>
<g clip-path="url(#esub)">
<ellipse cx="1636.0" cy="877.0" rx="311.0" ry="295.0" fill="#0030ff" />
<ellipse cx="1629.6" cy="877.0" rx="173.5" ry="159.5" fill="#0058ff" />
<ellipse cx="1629.6" cy="877.0" rx="125.5" ry="104.0" fill="#0080ff" />
<ellipse cx="1629.6" cy="877.0" rx="101.5" ry="75.0" fill="#00a8ff" />
<ellipse cx="1629.6" cy="877.0" rx="87.0" ry="54.0" fill="#00d0ff" />
<ellipse cx="1629.6" cy="877.0" rx="76.0" ry="40.5" fill="#00f8ff" />
<ellipse cx="1629.6" cy="877.0" rx="66.0" ry="28.5" fill="#10ffef" />
</g>
<g clip-path="url(#elow)">
<ellipse cx="1629.6" cy="877.0" rx="40.0" ry="24.0" fill="#38ffc7" />
</g>
<g clip-path="url(#eup)">
<ellipse cx="1629.6" cy="877.0" rx="65.0" ry="23.0" fill="#38ffc7" />
<ellipse cx="1629.6" cy="877.0" rx="61.0" ry="20.0" fill="#60ff9f" />
<ellipse cx="1629.6" cy="877.0" rx="56.0" ry="17.0" fill="#88ff77" />
<ellipse cx="1629.6" cy="877.0" rx="49.0" ry="14.0" fill="#b0ff4f" />
<ellipse cx="1629.6" cy="877.0" rx="38.0" ry="9.0" fill="#d8ff27" />
</g>
<g clip-path="url(#edisk)">
<defs><linearGradient id="eDisk" x1="0" y1="848.5" x2="0" y2="877" gradientUnits="userSpaceOnUse"><stop offset="0" stop-color="#ff1800"/><stop offset="0.35" stop-color="#ff2800"/><stop offset="0.46" stop-color="#ff6800"/><stop offset="0.6" stop-color="#ffb000"/><stop offset="0.72" stop-color="#ffe800"/><stop offset="0.82" stop-color="#ffff00"/><stop offset="1" stop-color="#d8ff28"/></linearGradient></defs><rect x="1565" y="845" width="130" height="34" fill="url(#eDisk)"/><ellipse cx="1629.6" cy="877.0" rx="42.0" ry="6.5" fill="#ffff00" opacity="0.8"/>
</g>
<rect x="1630.0" y="848.5" width="19.9" height="5.3" fill="#ff1000"/>
<rect x="1649.5" y="848.5" width="25.9" height="5.3" fill="#ff3800"/>
<rect x="1675.0" y="848.5" width="15.4" height="5.3" fill="#ff6000"/>
<rect x="1690.0" y="848.5" width="21.4" height="5.3" fill="#ff8800"/>
<rect x="1711.0" y="848.5" width="12.4" height="5.3" fill="#ffb000"/>
<rect x="1723.0" y="848.5" width="19.9" height="5.3" fill="#ffd800"/>
<rect x="1742.5" y="848.5" width="18.4" height="5.3" fill="#ffff00"/>
<rect x="1760.5" y="848.5" width="12.4" height="5.3" fill="#d8ff27"/>
<rect x="1772.5" y="848.5" width="12.4" height="5.3" fill="#b0ff4f"/>
<rect x="1784.5" y="848.5" width="12.4" height="5.3" fill="#88ff77"/>
<rect x="1796.5" y="848.5" width="13.9" height="5.3" fill="#60ff9f"/>
<rect x="1810.0" y="848.5" width="13.9" height="5.3" fill="#10ffef"/>
<rect x="1823.5" y="848.5" width="12.4" height="5.3" fill="#00f8ff"/>
<rect x="1835.5" y="848.5" width="12.4" height="5.3" fill="#00d0ff"/>
<rect x="1847.5" y="848.5" width="18.4" height="5.3" fill="#00a8ff"/>
<rect x="1865.5" y="848.5" width="30.4" height="5.3" fill="#0080ff"/>
<rect x="1895.5" y="848.5" width="26.6" height="5.3" fill="#0058ff"/>
<rect x="1571.3" y="848.5" width="59" height="5.3" fill="#ff1000"/>
<rect x="1847.2" y="853.5" width="72.5" height="24" fill="#0040ff"/>
<rect x="1358.2" y="890.3" width="561.5" height="7.300000000000068" fill="#000" opacity="0.40"/>
<rect x="1358.2" y="893.8" width="561.5" height="2.2" fill="#000" opacity="0.42"/>
<rect x="1358.2" y="889.8" width="561.5" height="1.2" fill="#000" opacity="0.25"/>
<rect x="1358.2" y="876.4" width="561.5" height="1.3" fill="#000" opacity="0.62"/>
</g>
<g clip-path="url(#eall)">
<path d="M1599.6,855.1L1598.1,875.3" stroke="#f80808" stroke-width="1.7" fill="none" opacity="1.0"/><polygon points="1597.6,882.1 1595.5,875.1 1600.6,875.5" fill="#f80808" opacity="1.0"/>
<path d="M1634.4,855.1L1634.7,875.3" stroke="#f80808" stroke-width="1.7" fill="none" opacity="1.0"/><polygon points="1634.8,882.1 1632.1,875.4 1637.3,875.3" fill="#f80808" opacity="1.0"/>
<path d="M1669.2,855.2L1671.3,875.3" stroke="#f80808" stroke-width="1.7" fill="none" opacity="1.0"/><polygon points="1672.0,882.0 1668.7,875.6 1673.8,875.0" fill="#f80808" opacity="1.0"/>
<path d="M1388.4,907.5L1380.7,908.7" stroke="#f80808" stroke-width="1.4449999999999998" fill="none" opacity="0.85"/><polygon points="1376.8,909.3 1380.5,907.2 1381.0,910.2" fill="#f80808" opacity="0.85"/>
<path d="M1424.8,907.3L1416.3,908.8" stroke="#f80808" stroke-width="1.4449999999999998" fill="none" opacity="0.85"/><polygon points="1412.4,909.5 1416.0,907.3 1416.6,910.3" fill="#f80808" opacity="0.85"/>
<path d="M1461.3,906.9L1451.8,909.0" stroke="#f80808" stroke-width="1.4449999999999998" fill="none" opacity="0.85"/><polygon points="1447.9,909.9 1451.4,907.5 1452.1,910.5" fill="#f80808" opacity="0.85"/>
<path d="M1498.0,906.3L1487.4,909.3" stroke="#f80808" stroke-width="1.4449999999999998" fill="none" opacity="0.85"/><polygon points="1483.2,910.5 1486.9,907.7 1487.8,910.9" fill="#f80808" opacity="0.85"/>
<path d="M1534.7,905.0L1522.9,909.9" stroke="#f80808" stroke-width="1.7" fill="none" opacity="0.95"/><polygon points="1518.5,911.8 1522.2,908.3 1523.6,911.6" fill="#f80808" opacity="0.95"/>
<path d="M1570.7,902.1L1558.8,911.4" stroke="#f80808" stroke-width="1.7" fill="none" opacity="0.95"/><polygon points="1554.5,914.7 1557.5,909.7 1560.0,913.0" fill="#f80808" opacity="0.95"/>
<path d="M1603.0,897.8L1596.5,913.5" stroke="#f80808" stroke-width="1.7" fill="none" opacity="0.95"/><polygon points="1594.2,919.0 1594.4,912.6 1598.5,914.4" fill="#f80808" opacity="0.95"/>
<path d="M1634.3,896.8L1634.8,914.0" stroke="#f80808" stroke-width="1.7" fill="none" opacity="0.95"/><polygon points="1634.9,920.0 1632.5,914.1 1637.0,914.0" fill="#f80808" opacity="0.95"/>
<path d="M1665.4,898.3L1673.1,913.3" stroke="#f80808" stroke-width="1.7" fill="none" opacity="0.95"/><polygon points="1675.8,918.5 1671.1,914.3 1675.1,912.3" fill="#f80808" opacity="0.95"/>
<path d="M1698.4,902.7L1710.5,911.1" stroke="#f80808" stroke-width="1.7" fill="none" opacity="0.95"/><polygon points="1714.8,914.1 1709.3,912.7 1711.6,909.4" fill="#f80808" opacity="0.95"/>
<path d="M1734.6,905.3L1746.2,909.8" stroke="#f80808" stroke-width="1.7" fill="none" opacity="0.95"/><polygon points="1750.6,911.5 1745.5,911.5 1746.8,908.1" fill="#f80808" opacity="0.95"/>
<path d="M1771.3,906.4L1781.7,909.3" stroke="#f80808" stroke-width="1.4449999999999998" fill="none" opacity="0.85"/><polygon points="1785.9,910.4 1781.3,910.8 1782.2,907.7" fill="#f80808" opacity="0.85"/>
<path d="M1807.9,907.0L1817.3,909.0" stroke="#f80808" stroke-width="1.4449999999999998" fill="none" opacity="0.85"/><polygon points="1821.3,909.8 1817.0,910.5 1817.7,907.5" fill="#f80808" opacity="0.85"/>
<path d="M1844.4,907.3L1852.8,908.8" stroke="#f80808" stroke-width="1.4449999999999998" fill="none" opacity="0.85"/><polygon points="1856.8,909.5 1852.6,910.3 1853.1,907.3" fill="#f80808" opacity="0.85"/>
<path d="M1880.8,907.5L1888.4,908.7" stroke="#f80808" stroke-width="1.4449999999999998" fill="none" opacity="0.85"/><polygon points="1892.4,909.3 1888.2,910.2 1888.6,907.2" fill="#f80808" opacity="0.85"/>
<path d="M1917.2,907.7L1924.1,908.6" stroke="#f80808" stroke-width="1.4449999999999998" fill="none" opacity="0.85"/><polygon points="1928.0,909.1 1923.9,910.1 1924.3,907.1" fill="#f80808" opacity="0.85"/>
<path d="M1388.1,946.5L1380.9,948.7" stroke="#f80808" stroke-width="1.4449999999999998" fill="none" opacity="0.85"/><polygon points="1377.1,949.9 1380.4,947.3 1381.4,950.2" fill="#f80808" opacity="0.85"/>
<path d="M1424.4,946.0L1416.6,949.0" stroke="#f80808" stroke-width="1.4449999999999998" fill="none" opacity="0.85"/><polygon points="1412.8,950.4 1416.0,947.5 1417.1,950.4" fill="#f80808" opacity="0.85"/>
<path d="M1460.7,945.4L1452.2,949.3" stroke="#f80808" stroke-width="1.4449999999999998" fill="none" opacity="0.85"/><polygon points="1448.5,951.0 1451.5,947.9 1452.8,950.7" fill="#f80808" opacity="0.85"/>
<path d="M1496.9,944.5L1487.9,949.8" stroke="#f80808" stroke-width="1.4449999999999998" fill="none" opacity="0.85"/><polygon points="1484.3,951.9 1487.1,948.4 1488.7,951.1" fill="#f80808" opacity="0.85"/>
<path d="M1532.8,943.1L1523.9,950.4" stroke="#f80808" stroke-width="1.4449999999999998" fill="none" opacity="0.85"/><polygon points="1520.4,953.3 1522.8,949.1 1525.0,951.8" fill="#f80808" opacity="0.85"/>
<path d="M1567.8,941.2L1560.2,951.4" stroke="#f80808" stroke-width="1.7" fill="none" opacity="0.95"/><polygon points="1557.4,955.2 1558.8,950.3 1561.7,952.5" fill="#f80808" opacity="0.95"/>
<path d="M1601.5,939.3L1597.2,952.3" stroke="#f80808" stroke-width="1.7" fill="none" opacity="0.95"/><polygon points="1595.7,957.1 1595.4,951.7 1599.1,952.9" fill="#f80808" opacity="0.95"/>
<path d="M1634.4,938.7L1634.7,952.6" stroke="#f80808" stroke-width="1.7" fill="none" opacity="0.95"/><polygon points="1634.8,957.7 1632.8,952.7 1636.7,952.6" fill="#f80808" opacity="0.95"/>
<path d="M1667.3,939.5L1672.1,952.2" stroke="#f80808" stroke-width="1.7" fill="none" opacity="0.95"/><polygon points="1673.9,956.9 1670.4,952.9 1673.9,951.5" fill="#f80808" opacity="0.95"/>
<path d="M1701.2,941.5L1709.1,951.2" stroke="#f80808" stroke-width="1.7" fill="none" opacity="0.95"/><polygon points="1712.0,954.9 1707.7,952.4 1710.5,950.1" fill="#f80808" opacity="0.95"/>
<path d="M1736.4,943.4L1745.3,950.3" stroke="#f80808" stroke-width="1.4449999999999998" fill="none" opacity="0.85"/><polygon points="1748.8,953.0 1744.3,951.7 1746.4,949.0" fill="#f80808" opacity="0.85"/>
<path d="M1772.4,944.7L1781.3,949.7" stroke="#f80808" stroke-width="1.4449999999999998" fill="none" opacity="0.85"/><polygon points="1784.8,951.7 1780.5,951.1 1782.0,948.3" fill="#f80808" opacity="0.85"/>
<path d="M1808.6,945.5L1817.0,949.2" stroke="#f80808" stroke-width="1.4449999999999998" fill="none" opacity="0.85"/><polygon points="1820.6,950.9 1816.4,950.6 1817.6,947.9" fill="#f80808" opacity="0.85"/>
<path d="M1844.9,946.1L1852.6,948.9" stroke="#f80808" stroke-width="1.4449999999999998" fill="none" opacity="0.85"/><polygon points="1856.3,950.3 1852.1,950.4 1853.1,947.5" fill="#f80808" opacity="0.85"/>
<path d="M1881.1,946.5L1888.3,948.7" stroke="#f80808" stroke-width="1.4449999999999998" fill="none" opacity="0.85"/><polygon points="1892.1,949.9 1887.8,950.2 1888.7,947.3" fill="#f80808" opacity="0.85"/>
<path d="M1917.4,946.8L1924.0,948.6" stroke="#f80808" stroke-width="1.4449999999999998" fill="none" opacity="0.85"/><polygon points="1927.8,949.6 1923.6,950.0 1924.4,947.1" fill="#f80808" opacity="0.85"/>
<path d="M1387.7,985.6L1381.1,988.7" stroke="#f80808" stroke-width="1.4449999999999998" fill="none" opacity="0.85"/><polygon points="1377.5,990.4 1380.5,987.3 1381.8,990.1" fill="#f80808" opacity="0.85"/>
<path d="M1423.8,985.1L1416.9,989.0" stroke="#f80808" stroke-width="1.4449999999999998" fill="none" opacity="0.85"/><polygon points="1413.4,990.9 1416.1,987.6 1417.6,990.3" fill="#f80808" opacity="0.85"/>
<path d="M1459.8,984.4L1452.7,989.3" stroke="#f80808" stroke-width="1.4449999999999998" fill="none" opacity="0.85"/><polygon points="1449.4,991.6 1451.8,988.1 1453.5,990.6" fill="#f80808" opacity="0.85"/>
<path d="M1495.7,983.5L1488.5,989.8" stroke="#f80808" stroke-width="1.4449999999999998" fill="none" opacity="0.85"/><polygon points="1485.5,992.5 1487.5,988.7 1489.5,991.0" fill="#f80808" opacity="0.85"/>
<path d="M1531.3,982.4L1524.6,990.4" stroke="#f80808" stroke-width="1.4449999999999998" fill="none" opacity="0.85"/><polygon points="1521.9,993.6 1523.4,989.4 1525.8,991.4" fill="#f80808" opacity="0.85"/>
<path d="M1566.2,981.2L1561.0,991.0" stroke="#f80808" stroke-width="1.4449999999999998" fill="none" opacity="0.85"/><polygon points="1559.0,994.8 1559.6,990.2 1562.5,991.8" fill="#f80808" opacity="0.85"/>
<path d="M1600.6,980.2L1597.7,991.5" stroke="#f80808" stroke-width="1.7" fill="none" opacity="0.95"/><polygon points="1596.6,995.8 1596.1,991.0 1599.4,991.9" fill="#f80808" opacity="0.95"/>
<path d="M1634.4,979.9L1634.7,991.6" stroke="#f80808" stroke-width="1.7" fill="none" opacity="0.95"/><polygon points="1634.8,996.1 1633.0,991.7 1636.4,991.6" fill="#f80808" opacity="0.95"/>
<path d="M1668.4,980.3L1671.6,991.4" stroke="#f80808" stroke-width="1.7" fill="none" opacity="0.95"/><polygon points="1672.8,995.7 1670.0,991.9 1673.2,990.9" fill="#f80808" opacity="0.95"/>
<path d="M1702.8,981.4L1708.3,990.9" stroke="#f80808" stroke-width="1.4449999999999998" fill="none" opacity="0.85"/><polygon points="1710.4,994.6 1706.8,991.7 1709.7,990.1" fill="#f80808" opacity="0.85"/>
<path d="M1737.9,982.6L1744.6,990.3" stroke="#f80808" stroke-width="1.4449999999999998" fill="none" opacity="0.85"/><polygon points="1747.3,993.4 1743.5,991.3 1745.8,989.3" fill="#f80808" opacity="0.85"/>
<path d="M1773.5,983.7L1780.7,989.8" stroke="#f80808" stroke-width="1.4449999999999998" fill="none" opacity="0.85"/><polygon points="1783.7,992.3 1779.7,990.9 1781.7,988.6" fill="#f80808" opacity="0.85"/>
<path d="M1809.4,984.5L1816.5,989.3" stroke="#f80808" stroke-width="1.4449999999999998" fill="none" opacity="0.85"/><polygon points="1819.8,991.5 1815.7,990.5 1817.4,988.0" fill="#f80808" opacity="0.85"/>
<path d="M1845.4,985.1L1852.3,988.9" stroke="#f80808" stroke-width="1.4449999999999998" fill="none" opacity="0.85"/><polygon points="1855.8,990.9 1851.5,990.3 1853.0,987.6" fill="#f80808" opacity="0.85"/>
<path d="M1881.5,985.6L1888.0,988.7" stroke="#f80808" stroke-width="1.4449999999999998" fill="none" opacity="0.85"/><polygon points="1891.7,990.4 1887.4,990.0 1888.7,987.3" fill="#f80808" opacity="0.85"/>
<path d="M1917.7,986.0L1923.8,988.5" stroke="#f80808" stroke-width="1.4449999999999998" fill="none" opacity="0.85"/><polygon points="1927.5,990.0 1923.2,989.9 1924.4,987.1" fill="#f80808" opacity="0.85"/>
<path d="M1387.2,1024.9L1381.4,1028.6" stroke="#f80808" stroke-width="1.4449999999999998" fill="none" opacity="0.85"/><polygon points="1378.0,1030.7 1380.6,1027.3 1382.2,1029.9" fill="#f80808" opacity="0.85"/>
<path d="M1423.2,1024.4L1417.2,1028.8" stroke="#f80808" stroke-width="1.4449999999999998" fill="none" opacity="0.85"/><polygon points="1414.0,1031.2 1416.3,1027.6 1418.1,1030.1" fill="#f80808" opacity="0.85"/>
<path d="M1459.1,1023.7L1453.1,1029.2" stroke="#f80808" stroke-width="1.4449999999999998" fill="none" opacity="0.85"/><polygon points="1450.1,1031.9 1452.1,1028.0 1454.1,1030.3" fill="#f80808" opacity="0.85"/>
<path d="M1494.8,1023.0L1489.1,1029.6" stroke="#f80808" stroke-width="1.4449999999999998" fill="none" opacity="0.85"/><polygon points="1486.4,1032.6 1487.9,1028.6 1490.2,1030.6" fill="#f80808" opacity="0.85"/>
<path d="M1530.2,1022.2L1525.2,1030.1" stroke="#f80808" stroke-width="1.4449999999999998" fill="none" opacity="0.85"/><polygon points="1523.0,1033.4 1523.9,1029.2 1526.4,1030.9" fill="#f80808" opacity="0.85"/>
<path d="M1565.3,1021.4L1561.5,1030.5" stroke="#f80808" stroke-width="1.4449999999999998" fill="none" opacity="0.85"/><polygon points="1559.9,1034.2 1560.1,1029.9 1562.9,1031.1" fill="#f80808" opacity="0.85"/>
<path d="M1600.0,1020.8L1598.0,1030.8" stroke="#f80808" stroke-width="1.4449999999999998" fill="none" opacity="0.85"/><polygon points="1597.2,1034.8 1596.5,1030.5 1599.5,1031.1" fill="#f80808" opacity="0.85"/>
<path d="M1634.5,1020.6L1634.6,1030.9" stroke="#f80808" stroke-width="1.4449999999999998" fill="none" opacity="0.85"/><polygon points="1634.7,1035.0 1633.1,1030.9 1636.2,1030.9" fill="#f80808" opacity="0.85"/>
<path d="M1669.0,1020.9L1671.3,1030.8" stroke="#f80808" stroke-width="1.4449999999999998" fill="none" opacity="0.85"/><polygon points="1672.2,1034.7 1669.8,1031.1 1672.8,1030.4" fill="#f80808" opacity="0.85"/>
<path d="M1703.8,1021.5L1707.8,1030.5" stroke="#f80808" stroke-width="1.4449999999999998" fill="none" opacity="0.85"/><polygon points="1709.4,1034.1 1706.4,1031.1 1709.2,1029.8" fill="#f80808" opacity="0.85"/>
<path d="M1738.9,1022.3L1744.1,1030.0" stroke="#f80808" stroke-width="1.4449999999999998" fill="none" opacity="0.85"/><polygon points="1746.3,1033.3 1742.8,1030.8 1745.3,1029.1" fill="#f80808" opacity="0.85"/>
<path d="M1774.4,1023.1L1780.1,1029.5" stroke="#f80808" stroke-width="1.4449999999999998" fill="none" opacity="0.85"/><polygon points="1782.8,1032.5 1779.0,1030.5 1781.3,1028.5" fill="#f80808" opacity="0.85"/>
<path d="M1810.1,1023.8L1816.1,1029.1" stroke="#f80808" stroke-width="1.4449999999999998" fill="none" opacity="0.85"/><polygon points="1819.1,1031.8 1815.1,1030.3 1817.1,1028.0" fill="#f80808" opacity="0.85"/>
<path d="M1846.0,1024.4L1852.0,1028.8" stroke="#f80808" stroke-width="1.4449999999999998" fill="none" opacity="0.85"/><polygon points="1855.2,1031.2 1851.1,1030.0 1852.9,1027.6" fill="#f80808" opacity="0.85"/>
<path d="M1882.0,1024.9L1887.8,1028.6" stroke="#f80808" stroke-width="1.4449999999999998" fill="none" opacity="0.85"/><polygon points="1891.2,1030.7 1887.0,1029.8 1888.6,1027.3" fill="#f80808" opacity="0.85"/>
<path d="M1918.1,1025.3L1923.6,1028.4" stroke="#f80808" stroke-width="1.4449999999999998" fill="none" opacity="0.85"/><polygon points="1927.1,1030.3 1922.9,1029.7 1924.4,1027.0" fill="#f80808" opacity="0.85"/>
<path d="M1386.7,1064.3L1381.6,1068.4" stroke="#f80808" stroke-width="1.4449999999999998" fill="none" opacity="0.85"/><polygon points="1378.5,1070.9 1380.7,1067.2 1382.6,1069.6" fill="#f80808" opacity="0.85"/>
<path d="M1422.6,1063.8L1417.5,1068.6" stroke="#f80808" stroke-width="1.4449999999999998" fill="none" opacity="0.85"/><polygon points="1414.6,1071.4 1416.5,1067.5 1418.6,1069.7" fill="#f80808" opacity="0.85"/>
<path d="M1458.4,1063.3L1453.5,1068.9" stroke="#f80808" stroke-width="1.4449999999999998" fill="none" opacity="0.85"/><polygon points="1450.8,1071.9 1452.3,1067.9 1454.6,1069.9" fill="#f80808" opacity="0.85"/>
<path d="M1494.0,1062.7L1489.5,1069.2" stroke="#f80808" stroke-width="1.4449999999999998" fill="none" opacity="0.85"/><polygon points="1487.2,1072.5 1488.2,1068.3 1490.7,1070.1" fill="#f80808" opacity="0.85"/>
<path d="M1529.4,1062.1L1525.6,1069.5" stroke="#f80808" stroke-width="1.4449999999999998" fill="none" opacity="0.85"/><polygon points="1523.8,1073.1 1524.3,1068.8 1527.0,1070.2" fill="#f80808" opacity="0.85"/>
<path d="M1564.6,1061.6L1561.8,1069.8" stroke="#f80808" stroke-width="1.4449999999999998" fill="none" opacity="0.85"/><polygon points="1560.6,1073.6 1560.4,1069.3 1563.3,1070.3" fill="#f80808" opacity="0.85"/>
<path d="M1599.6,1061.2L1598.2,1070.0" stroke="#f80808" stroke-width="1.4449999999999998" fill="none" opacity="0.85"/><polygon points="1597.6,1074.0 1596.7,1069.8 1599.7,1070.3" fill="#f80808" opacity="0.85"/>
<path d="M1634.5,1061.1L1634.6,1070.1" stroke="#f80808" stroke-width="1.4449999999999998" fill="none" opacity="0.85"/><polygon points="1634.7,1074.1 1633.1,1070.1 1636.2,1070.1" fill="#f80808" opacity="0.85"/>
<path d="M1669.4,1061.2L1671.1,1070.0" stroke="#f80808" stroke-width="1.4449999999999998" fill="none" opacity="0.85"/><polygon points="1671.8,1074.0 1669.6,1070.3 1672.5,1069.7" fill="#f80808" opacity="0.85"/>
<path d="M1704.4,1061.6L1707.4,1069.8" stroke="#f80808" stroke-width="1.4449999999999998" fill="none" opacity="0.85"/><polygon points="1708.8,1073.6 1706.0,1070.3 1708.8,1069.3" fill="#f80808" opacity="0.85"/>
<path d="M1739.7,1062.2L1743.6,1069.5" stroke="#f80808" stroke-width="1.4449999999999998" fill="none" opacity="0.85"/><polygon points="1745.5,1073.0 1742.3,1070.2 1745.0,1068.8" fill="#f80808" opacity="0.85"/>
<path d="M1775.1,1062.8L1779.7,1069.2" stroke="#f80808" stroke-width="1.4449999999999998" fill="none" opacity="0.85"/><polygon points="1782.1,1072.4 1778.5,1070.0 1781.0,1068.3" fill="#f80808" opacity="0.85"/>
<path d="M1810.8,1063.4L1815.7,1068.8" stroke="#f80808" stroke-width="1.4449999999999998" fill="none" opacity="0.85"/><polygon points="1818.4,1071.8 1814.6,1069.9 1816.9,1067.8" fill="#f80808" opacity="0.85"/>
<path d="M1846.6,1063.9L1851.7,1068.6" stroke="#f80808" stroke-width="1.4449999999999998" fill="none" opacity="0.85"/><polygon points="1854.6,1071.3 1850.6,1069.7 1852.7,1067.5" fill="#f80808" opacity="0.85"/>
<path d="M1882.5,1064.4L1887.6,1068.4" stroke="#f80808" stroke-width="1.4449999999999998" fill="none" opacity="0.85"/><polygon points="1890.7,1070.8 1886.6,1069.6 1888.5,1067.2" fill="#f80808" opacity="0.85"/>
<path d="M1918.5,1064.8L1923.4,1068.2" stroke="#f80808" stroke-width="1.4449999999999998" fill="none" opacity="0.85"/><polygon points="1926.7,1070.4 1922.6,1069.4 1924.3,1066.9" fill="#f80808" opacity="0.85"/>
<path d="M1386.2,1103.9L1381.8,1108.1" stroke="#f80808" stroke-width="1.4449999999999998" fill="none" opacity="0.85"/><polygon points="1379.0,1110.9 1380.8,1107.0 1382.9,1109.2" fill="#f80808" opacity="0.85"/>
<path d="M1422.1,1103.5L1417.8,1108.3" stroke="#f80808" stroke-width="1.4449999999999998" fill="none" opacity="0.85"/><polygon points="1415.1,1111.3 1416.6,1107.3 1418.9,1109.3" fill="#f80808" opacity="0.85"/>
<path d="M1457.8,1103.0L1453.8,1108.5" stroke="#f80808" stroke-width="1.4449999999999998" fill="none" opacity="0.85"/><polygon points="1451.4,1111.8 1452.5,1107.6 1455.0,1109.4" fill="#f80808" opacity="0.85"/>
<path d="M1493.4,1102.6L1489.8,1108.8" stroke="#f80808" stroke-width="1.4449999999999998" fill="none" opacity="0.85"/><polygon points="1487.8,1112.2 1488.5,1108.0 1491.1,1109.6" fill="#f80808" opacity="0.85"/>
<path d="M1528.9,1102.1L1525.9,1109.0" stroke="#f80808" stroke-width="1.4449999999999998" fill="none" opacity="0.85"/><polygon points="1524.3,1112.7 1524.5,1108.4 1527.3,1109.6" fill="#f80808" opacity="0.85"/>
<path d="M1564.2,1101.7L1562.1,1109.2" stroke="#f80808" stroke-width="1.4449999999999998" fill="none" opacity="0.85"/><polygon points="1561.0,1113.1 1560.6,1108.8 1563.5,1109.6" fill="#f80808" opacity="0.85"/>
<path d="M1599.4,1101.5L1598.3,1109.4" stroke="#f80808" stroke-width="1.4449999999999998" fill="none" opacity="0.85"/><polygon points="1597.8,1113.3 1596.8,1109.1 1599.8,1109.6" fill="#f80808" opacity="0.85"/>
<path d="M1634.5,1101.4L1634.6,1109.4" stroke="#f80808" stroke-width="1.4449999999999998" fill="none" opacity="0.85"/><polygon points="1634.7,1113.4 1633.1,1109.4 1636.1,1109.4" fill="#f80808" opacity="0.85"/>
<path d="M1669.7,1101.5L1670.9,1109.3" stroke="#f80808" stroke-width="1.4449999999999998" fill="none" opacity="0.85"/><polygon points="1671.5,1113.3 1669.4,1109.6 1672.4,1109.1" fill="#f80808" opacity="0.85"/>
<path d="M1704.9,1101.8L1707.1,1109.2" stroke="#f80808" stroke-width="1.4449999999999998" fill="none" opacity="0.85"/><polygon points="1708.3,1113.0 1705.7,1109.6 1708.6,1108.7" fill="#f80808" opacity="0.85"/>
<path d="M1740.2,1102.2L1743.3,1109.0" stroke="#f80808" stroke-width="1.4449999999999998" fill="none" opacity="0.85"/><polygon points="1745.0,1112.6 1741.9,1109.6 1744.7,1108.4" fill="#f80808" opacity="0.85"/>
<path d="M1775.7,1102.6L1779.4,1108.7" stroke="#f80808" stroke-width="1.4449999999999998" fill="none" opacity="0.85"/><polygon points="1781.5,1112.2 1778.1,1109.5 1780.7,1108.0" fill="#f80808" opacity="0.85"/>
<path d="M1811.3,1103.1L1815.4,1108.5" stroke="#f80808" stroke-width="1.4449999999999998" fill="none" opacity="0.85"/><polygon points="1817.9,1111.7 1814.2,1109.4 1816.7,1107.6" fill="#f80808" opacity="0.85"/>
<path d="M1847.1,1103.5L1851.4,1108.3" stroke="#f80808" stroke-width="1.4449999999999998" fill="none" opacity="0.85"/><polygon points="1854.1,1111.3 1850.3,1109.3 1852.5,1107.3" fill="#f80808" opacity="0.85"/>
<path d="M1882.9,1103.9L1887.4,1108.1" stroke="#f80808" stroke-width="1.4449999999999998" fill="none" opacity="0.85"/><polygon points="1890.3,1110.9 1886.3,1109.2 1888.4,1107.0" fill="#f80808" opacity="0.85"/>
<path d="M1918.8,1104.3L1923.3,1107.9" stroke="#f80808" stroke-width="1.4449999999999998" fill="none" opacity="0.85"/><polygon points="1926.4,1110.5 1922.3,1109.1 1924.2,1106.8" fill="#f80808" opacity="0.85"/>
<path d="M1385.8,1143.6L1382.0,1147.9" stroke="#f80808" stroke-width="1.4449999999999998" fill="none" opacity="0.85"/><polygon points="1379.4,1150.8 1380.9,1146.8 1383.2,1148.9" fill="#f80808" opacity="0.85"/>
<path d="M1421.6,1143.2L1418.0,1148.0" stroke="#f80808" stroke-width="1.4449999999999998" fill="none" opacity="0.85"/><polygon points="1415.6,1151.2 1416.8,1147.1 1419.2,1148.9" fill="#f80808" opacity="0.85"/>
<path d="M1457.4,1142.8L1454.0,1148.2" stroke="#f80808" stroke-width="1.4449999999999998" fill="none" opacity="0.85"/><polygon points="1451.8,1151.6 1452.7,1147.4 1455.3,1149.0" fill="#f80808" opacity="0.85"/>
<path d="M1493.0,1142.5L1490.0,1148.4" stroke="#f80808" stroke-width="1.4449999999999998" fill="none" opacity="0.85"/><polygon points="1488.2,1151.9 1488.7,1147.7 1491.4,1149.0" fill="#f80808" opacity="0.85"/>
<path d="M1528.5,1142.1L1526.1,1148.5" stroke="#f80808" stroke-width="1.4449999999999998" fill="none" opacity="0.85"/><polygon points="1524.7,1152.3 1524.7,1148.0 1527.5,1149.1" fill="#f80808" opacity="0.85"/>
<path d="M1563.9,1141.9L1562.2,1148.7" stroke="#f80808" stroke-width="1.4449999999999998" fill="none" opacity="0.85"/><polygon points="1561.3,1152.5 1560.8,1148.3 1563.7,1149.0" fill="#f80808" opacity="0.85"/>
<path d="M1599.3,1141.7L1598.4,1148.8" stroke="#f80808" stroke-width="1.4449999999999998" fill="none" opacity="0.85"/><polygon points="1597.9,1152.7 1596.9,1148.6 1599.9,1148.9" fill="#f80808" opacity="0.85"/>
<path d="M1634.5,1141.6L1634.6,1148.8" stroke="#f80808" stroke-width="1.4449999999999998" fill="none" opacity="0.85"/><polygon points="1634.7,1152.8 1633.1,1148.8 1636.1,1148.8" fill="#f80808" opacity="0.85"/>
<path d="M1669.8,1141.7L1670.8,1148.7" stroke="#f80808" stroke-width="1.4449999999999998" fill="none" opacity="0.85"/><polygon points="1671.4,1152.7 1669.3,1148.9 1672.3,1148.5" fill="#f80808" opacity="0.85"/>
<path d="M1705.2,1141.9L1707.0,1148.6" stroke="#f80808" stroke-width="1.4449999999999998" fill="none" opacity="0.85"/><polygon points="1708.0,1152.5 1705.5,1149.0 1708.5,1148.3" fill="#f80808" opacity="0.85"/>
<path d="M1740.6,1142.2L1743.1,1148.5" stroke="#f80808" stroke-width="1.4449999999999998" fill="none" opacity="0.85"/><polygon points="1744.6,1152.2 1741.7,1149.1 1744.5,1147.9" fill="#f80808" opacity="0.85"/>
<path d="M1776.2,1142.5L1779.2,1148.3" stroke="#f80808" stroke-width="1.4449999999999998" fill="none" opacity="0.85"/><polygon points="1781.0,1151.9 1777.8,1149.0 1780.5,1147.6" fill="#f80808" opacity="0.85"/>
<path d="M1811.8,1142.9L1815.2,1148.2" stroke="#f80808" stroke-width="1.4449999999999998" fill="none" opacity="0.85"/><polygon points="1817.4,1151.5 1813.9,1149.0 1816.5,1147.3" fill="#f80808" opacity="0.85"/>
<path d="M1847.5,1143.3L1851.2,1148.0" stroke="#f80808" stroke-width="1.4449999999999998" fill="none" opacity="0.85"/><polygon points="1853.7,1151.1 1850.0,1148.9 1852.4,1147.1" fill="#f80808" opacity="0.85"/>
<path d="M1883.3,1143.6L1887.2,1147.8" stroke="#f80808" stroke-width="1.4449999999999998" fill="none" opacity="0.85"/><polygon points="1889.9,1150.8 1886.1,1148.9 1888.3,1146.8" fill="#f80808" opacity="0.85"/>
<path d="M1919.2,1143.9L1923.1,1147.7" stroke="#f80808" stroke-width="1.4449999999999998" fill="none" opacity="0.85"/><polygon points="1926.0,1150.5 1922.1,1148.8 1924.2,1146.6" fill="#f80808" opacity="0.85"/>
</g>
<rect x="1571.3" y="858.70" width="116.60000000000014" height="2.8" fill="#000" opacity="0.97"/>
<rect x="1571.3" y="868.90" width="116.60000000000014" height="1.2" fill="#000" opacity="0.75"/>
<path d="M1571.7,877.0V848.5M1687.5,877.0V848.5" fill="none" stroke="#0a0000" stroke-width="1.2" opacity="0.9"/>
<rect x="1571.3" y="848.5" width="116.60000000000014" height="0.9" fill="#0a0000" opacity="0.95"/>
<rect x="1571.3" y="853.2" width="116.6" height="1.6" fill="#000" opacity="0.9"/><rect x="1847.2" y="854.6" width="72.5" height="3.2" fill="#000" opacity="0.95"/><rect x="1847.2" y="866" width="72.5" height="1.1" fill="#000" opacity="0.7"/><path d="M1687.9,853.6H1847.2V877" fill="none" stroke="#202020" stroke-width="1" opacity="0.8"/><path d="M1571.3,848.5H1919.7" fill="none" stroke="#401000" stroke-width="1" opacity="0.6"/>
<rect x="1738.2" y="1136" width="146.29999999999995" height="7.1" fill="#fff"/>
<text transform="translate(0,1106.30) scale(1.0246,1)" font-family="'Liberation Sans', sans-serif" font-size="35.20" fill="#ffffff" xml:space="preserve" ><tspan x="1347.64" y="0">8 </tspan><tspan x="1377.34" y="0">μm </tspan><tspan x="1434.60" y="0">microdisk </tspan><tspan x="1588.98" y="0">with</tspan></text>
<text transform="translate(0,1148.50) scale(1.0014,1)" font-family="'Liberation Sans', sans-serif" font-size="35.20" fill="#ffffff" xml:space="preserve" ><tspan x="1379.83" y="0">air-bridge </tspan><tspan x="1537.09" y="0">structure</tspan></text>
<text transform="translate(0,1118.70) scale(1.0275,1)" font-family="'Liberation Sans', sans-serif" font-size="35.20" fill="#ffffff" xml:space="preserve" ><tspan x="1714.54" y="0">20 </tspan><tspan x="1762.61" y="0">μm</tspan></text>
<rect x="1934.3" y="724.80" width="15.2" height="10.86" fill="#ff1000"/>
<rect x="1934.3" y="735.25" width="15.2" height="21.31" fill="#ff3800"/>
<rect x="1934.3" y="756.16" width="15.2" height="21.31" fill="#ff6000"/>
<rect x="1934.3" y="777.07" width="15.2" height="21.31" fill="#ff8800"/>
<rect x="1934.3" y="797.98" width="15.2" height="21.31" fill="#ffb000"/>
<rect x="1934.3" y="818.89" width="15.2" height="21.31" fill="#ffd800"/>
<rect x="1934.3" y="839.80" width="15.2" height="21.31" fill="#ffff00"/>
<rect x="1934.3" y="860.71" width="15.2" height="21.31" fill="#d8ff27"/>
<rect x="1934.3" y="881.62" width="15.2" height="21.31" fill="#b0ff4f"/>
<rect x="1934.3" y="902.53" width="15.2" height="21.31" fill="#88ff77"/>
<rect x="1934.3" y="923.44" width="15.2" height="21.31" fill="#60ff9f"/>
<rect x="1934.3" y="944.35" width="15.2" height="21.31" fill="#38ffc7"/>
<rect x="1934.3" y="965.26" width="15.2" height="21.31" fill="#10ffef"/>
<rect x="1934.3" y="986.17" width="15.2" height="21.31" fill="#00f8ff"/>
<rect x="1934.3" y="1007.08" width="15.2" height="21.31" fill="#00d0ff"/>
<rect x="1934.3" y="1027.99" width="15.2" height="21.31" fill="#00a8ff"/>
<rect x="1934.3" y="1048.90" width="15.2" height="21.31" fill="#0080ff"/>
<rect x="1934.3" y="1069.81" width="15.2" height="21.31" fill="#0058ff"/>
<rect x="1934.3" y="1090.72" width="15.2" height="21.31" fill="#0030ff"/>
<rect x="1934.3" y="1111.63" width="15.2" height="31.77" fill="#0008ff"/>
<rect x="1934.3" y="724.8" width="15.2" height="418.2" fill="none" stroke="#303030" stroke-width="0.9" opacity="0.8"/>
<path d="M1934.3,735.25h2.6M1949.5,735.25h-2.6" stroke="#000" stroke-width="1.1" opacity="0.9"/>
<path d="M1934.3,756.16h2.6M1949.5,756.16h-2.6" stroke="#000" stroke-width="1.1" opacity="0.9"/>
<path d="M1934.3,777.07h2.6M1949.5,777.07h-2.6" stroke="#000" stroke-width="1.1" opacity="0.9"/>
<path d="M1934.3,797.98h2.6M1949.5,797.98h-2.6" stroke="#000" stroke-width="1.1" opacity="0.9"/>
<path d="M1934.3,818.89h2.6M1949.5,818.89h-2.6" stroke="#000" stroke-width="1.1" opacity="0.9"/>
<path d="M1934.3,839.80h2.6M1949.5,839.80h-2.6" stroke="#000" stroke-width="1.1" opacity="0.9"/>
<path d="M1934.3,860.71h2.6M1949.5,860.71h-2.6" stroke="#000" stroke-width="1.1" opacity="0.9"/>
<path d="M1934.3,881.62h2.6M1949.5,881.62h-2.6" stroke="#000" stroke-width="1.1" opacity="0.9"/>
<path d="M1934.3,902.53h2.6M1949.5,902.53h-2.6" stroke="#000" stroke-width="1.1" opacity="0.9"/>
<path d="M1934.3,923.44h2.6M1949.5,923.44h-2.6" stroke="#000" stroke-width="1.1" opacity="0.9"/>
<path d="M1934.3,944.35h2.6M1949.5,944.35h-2.6" stroke="#000" stroke-width="1.1" opacity="0.9"/>
<path d="M1934.3,965.26h2.6M1949.5,965.26h-2.6" stroke="#000" stroke-width="1.1" opacity="0.9"/>
<path d="M1934.3,986.17h2.6M1949.5,986.17h-2.6" stroke="#000" stroke-width="1.1" opacity="0.9"/>
<path d="M1934.3,1007.08h2.6M1949.5,1007.08h-2.6" stroke="#000" stroke-width="1.1" opacity="0.9"/>
<path d="M1934.3,1027.99h2.6M1949.5,1027.99h-2.6" stroke="#000" stroke-width="1.1" opacity="0.9"/>
<path d="M1934.3,1048.90h2.6M1949.5,1048.90h-2.6" stroke="#000" stroke-width="1.1" opacity="0.9"/>
<path d="M1934.3,1069.81h2.6M1949.5,1069.81h-2.6" stroke="#000" stroke-width="1.1" opacity="0.9"/>
<path d="M1934.3,1090.72h2.6M1949.5,1090.72h-2.6" stroke="#000" stroke-width="1.1" opacity="0.9"/>
<path d="M1934.3,1111.63h2.6M1949.5,1111.63h-2.6" stroke="#000" stroke-width="1.1" opacity="0.9"/>
<text x="1956.2" y="739.7" font-size="11.5" fill="#1c1c1c" stroke="#1c1c1c" stroke-width="0.25" font-family="'DejaVu Sans', 'Liberation Sans', sans-serif">332.14</text>
<text x="1956.2" y="760.6" font-size="11.5" fill="#1c1c1c" stroke="#1c1c1c" stroke-width="0.25" font-family="'DejaVu Sans', 'Liberation Sans', sans-serif">330.14</text>
<text x="1956.2" y="781.5" font-size="11.5" fill="#1c1c1c" stroke="#1c1c1c" stroke-width="0.25" font-family="'DejaVu Sans', 'Liberation Sans', sans-serif">328.14</text>
<text x="1956.2" y="802.4" font-size="11.5" fill="#1c1c1c" stroke="#1c1c1c" stroke-width="0.25" font-family="'DejaVu Sans', 'Liberation Sans', sans-serif">326.14</text>
<text x="1956.2" y="823.3" font-size="11.5" fill="#1c1c1c" stroke="#1c1c1c" stroke-width="0.25" font-family="'DejaVu Sans', 'Liberation Sans', sans-serif">324.14</text>
<text x="1956.2" y="844.2" font-size="11.5" fill="#1c1c1c" stroke="#1c1c1c" stroke-width="0.25" font-family="'DejaVu Sans', 'Liberation Sans', sans-serif">322.14</text>
<text x="1956.2" y="865.1" font-size="11.5" fill="#1c1c1c" stroke="#1c1c1c" stroke-width="0.25" font-family="'DejaVu Sans', 'Liberation Sans', sans-serif">320.14</text>
<text x="1956.2" y="886.0" font-size="11.5" fill="#1c1c1c" stroke="#1c1c1c" stroke-width="0.25" font-family="'DejaVu Sans', 'Liberation Sans', sans-serif">318.14</text>
<text x="1956.2" y="906.9" font-size="11.5" fill="#1c1c1c" stroke="#1c1c1c" stroke-width="0.25" font-family="'DejaVu Sans', 'Liberation Sans', sans-serif">316.14</text>
<text x="1956.2" y="927.8" font-size="11.5" fill="#1c1c1c" stroke="#1c1c1c" stroke-width="0.25" font-family="'DejaVu Sans', 'Liberation Sans', sans-serif">314.14</text>
<text x="1956.2" y="948.8" font-size="11.5" fill="#1c1c1c" stroke="#1c1c1c" stroke-width="0.25" font-family="'DejaVu Sans', 'Liberation Sans', sans-serif">312.14</text>
<text x="1956.2" y="969.7" font-size="11.5" fill="#1c1c1c" stroke="#1c1c1c" stroke-width="0.25" font-family="'DejaVu Sans', 'Liberation Sans', sans-serif">310.15</text>
<text x="1956.2" y="990.6" font-size="11.5" fill="#1c1c1c" stroke="#1c1c1c" stroke-width="0.25" font-family="'DejaVu Sans', 'Liberation Sans', sans-serif">308.15</text>
<text x="1956.2" y="1011.5" font-size="11.5" fill="#1c1c1c" stroke="#1c1c1c" stroke-width="0.25" font-family="'DejaVu Sans', 'Liberation Sans', sans-serif">306.15</text>
<text x="1956.2" y="1032.4" font-size="11.5" fill="#1c1c1c" stroke="#1c1c1c" stroke-width="0.25" font-family="'DejaVu Sans', 'Liberation Sans', sans-serif">304.15</text>
<text x="1956.2" y="1053.3" font-size="11.5" fill="#1c1c1c" stroke="#1c1c1c" stroke-width="0.25" font-family="'DejaVu Sans', 'Liberation Sans', sans-serif">302.15</text>
<text x="1956.2" y="1074.2" font-size="11.5" fill="#1c1c1c" stroke="#1c1c1c" stroke-width="0.25" font-family="'DejaVu Sans', 'Liberation Sans', sans-serif">300.15</text>
<text x="1956.2" y="1095.1" font-size="11.5" fill="#1c1c1c" stroke="#1c1c1c" stroke-width="0.25" font-family="'DejaVu Sans', 'Liberation Sans', sans-serif">298.15</text>
<text x="1956.2" y="1116.0" font-size="11.5" fill="#1c1c1c" stroke="#1c1c1c" stroke-width="0.25" font-family="'DejaVu Sans', 'Liberation Sans', sans-serif">296.15</text>
<text x="1956.2" y="1147.4" font-size="11.5" fill="#1c1c1c" stroke="#1c1c1c" stroke-width="0.25" font-family="'DejaVu Sans', 'Liberation Sans', sans-serif">293.15</text>
<text x="1948.5" y="704.0" font-size="10" fill="#1c1c1c" stroke="#1c1c1c" stroke-width="0.2" font-family="'DejaVu Sans', 'Liberation Sans', sans-serif">K</text></g>
<text transform="translate(10.84,27.79) scale(1.0239,1)" font-family="'Liberation Sans', sans-serif" font-size="32.67" fill="#000" >(a)</text>
<text transform="translate(1039.11,26.04) scale(1.0169,1)" font-family="'Liberation Sans', sans-serif" font-size="32.67" fill="#000" >(b)</text>
<text transform="translate(2.59,713.62) scale(1.0019,1)" font-family="'Liberation Sans', sans-serif" font-size="33.48" fill="#000" >(c)</text>
<text transform="translate(657.37,713.62) scale(0.9858,1)" font-family="'Liberation Sans', sans-serif" font-size="33.48" fill="#000" >(d)</text>
<text transform="translate(1326.62,713.62) scale(0.9858,1)" font-family="'Liberation Sans', sans-serif" font-size="33.48" fill="#000" >(e)</text>
</svg>
</body></html>
